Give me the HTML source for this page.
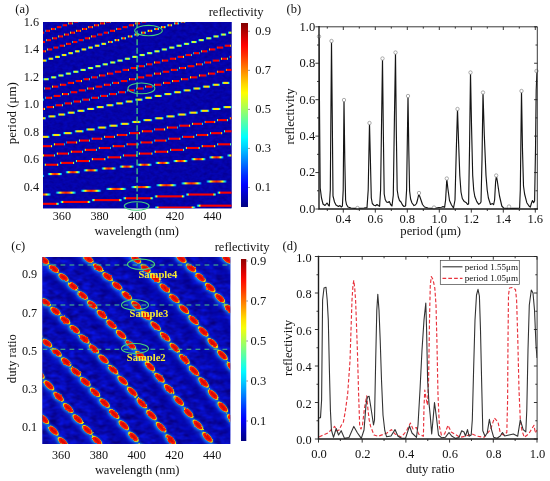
<!DOCTYPE html>
<html lang="en"><head><meta charset="utf-8"><title>Reflectivity maps</title>
<style>html,body{margin:0;padding:0;background:#fff}body{width:550px;height:481px;overflow:hidden}svg{display:block;font-family:'Liberation Serif', 'DejaVu Serif', serif}</style></head><body>
<svg width="550" height="481" viewBox="0 0 550 481">
<defs>
<linearGradient id="cbA" x1="0" y1="1" x2="0" y2="0">
<stop offset="0" stop-color="#000080"/>
<stop offset="0.04" stop-color="#0000aa"/>
<stop offset="0.08" stop-color="#0000d4"/>
<stop offset="0.12" stop-color="#0000ff"/>
<stop offset="0.17" stop-color="#002aff"/>
<stop offset="0.21" stop-color="#0055ff"/>
<stop offset="0.25" stop-color="#0080ff"/>
<stop offset="0.29" stop-color="#00aaff"/>
<stop offset="0.33" stop-color="#00d4ff"/>
<stop offset="0.38" stop-color="#00ffff"/>
<stop offset="0.42" stop-color="#2bffd4"/>
<stop offset="0.46" stop-color="#55ffaa"/>
<stop offset="0.5" stop-color="#80ff80"/>
<stop offset="0.54" stop-color="#aaff55"/>
<stop offset="0.58" stop-color="#d5ff2a"/>
<stop offset="0.62" stop-color="#ffff00"/>
<stop offset="0.67" stop-color="#ffd500"/>
<stop offset="0.71" stop-color="#ffaa00"/>
<stop offset="0.75" stop-color="#ff8000"/>
<stop offset="0.79" stop-color="#ff5500"/>
<stop offset="0.83" stop-color="#ff2a00"/>
<stop offset="0.88" stop-color="#ff0000"/>
<stop offset="0.92" stop-color="#d50000"/>
<stop offset="0.96" stop-color="#aa0000"/>
<stop offset="1" stop-color="#800000"/>
</linearGradient>
<linearGradient id="cbC" x1="0" y1="1" x2="0" y2="0">
<stop offset="0" stop-color="#000080"/>
<stop offset="0.04" stop-color="#0000a9"/>
<stop offset="0.08" stop-color="#0000d3"/>
<stop offset="0.12" stop-color="#0000fd"/>
<stop offset="0.17" stop-color="#0028ff"/>
<stop offset="0.21" stop-color="#0052ff"/>
<stop offset="0.25" stop-color="#007cff"/>
<stop offset="0.29" stop-color="#00a6ff"/>
<stop offset="0.33" stop-color="#00cfff"/>
<stop offset="0.38" stop-color="#00f9ff"/>
<stop offset="0.42" stop-color="#24ffdb"/>
<stop offset="0.46" stop-color="#4effb1"/>
<stop offset="0.5" stop-color="#78ff87"/>
<stop offset="0.54" stop-color="#a2ff5d"/>
<stop offset="0.58" stop-color="#ccff33"/>
<stop offset="0.62" stop-color="#f5ff0a"/>
<stop offset="0.67" stop-color="#ffdf00"/>
<stop offset="0.71" stop-color="#ffb500"/>
<stop offset="0.75" stop-color="#ff8b00"/>
<stop offset="0.79" stop-color="#ff6100"/>
<stop offset="0.83" stop-color="#ff3700"/>
<stop offset="0.88" stop-color="#ff0d00"/>
<stop offset="0.92" stop-color="#e30000"/>
<stop offset="0.96" stop-color="#b90000"/>
<stop offset="1" stop-color="#8f0000"/>
</linearGradient>
<linearGradient id="gS" x1="0" y1="0" x2="1" y2="0">
<stop offset="0" stop-color="#009eff" stop-opacity="0.85"/>
<stop offset="0.04" stop-color="#1affe5" stop-opacity="1"/>
<stop offset="0.07" stop-color="#faff05" stop-opacity="1"/>
<stop offset="0.11" stop-color="#fa0000" stop-opacity="1"/>
<stop offset="0.89" stop-color="#fa0000" stop-opacity="1"/>
<stop offset="0.93" stop-color="#faff05" stop-opacity="1"/>
<stop offset="0.96" stop-color="#1affe5" stop-opacity="1"/>
<stop offset="1" stop-color="#009eff" stop-opacity="0.85"/>
</linearGradient>
<linearGradient id="gM" x1="0" y1="0" x2="1" y2="0">
<stop offset="0" stop-color="#004dff" stop-opacity="0"/>
<stop offset="0.09" stop-color="#004dff" stop-opacity="0"/>
<stop offset="0.15" stop-color="#00b2ff" stop-opacity="0.85"/>
<stop offset="0.21" stop-color="#2effd1" stop-opacity="1"/>
<stop offset="0.28" stop-color="#faff05" stop-opacity="1"/>
<stop offset="0.37" stop-color="#ff6100" stop-opacity="1"/>
<stop offset="0.5" stop-color="#ff1a00" stop-opacity="1"/>
<stop offset="0.5" stop-color="#ff1a00" stop-opacity="1"/>
<stop offset="0.63" stop-color="#ff6100" stop-opacity="1"/>
<stop offset="0.72" stop-color="#faff05" stop-opacity="1"/>
<stop offset="0.79" stop-color="#2effd1" stop-opacity="1"/>
<stop offset="0.85" stop-color="#00b2ff" stop-opacity="0.85"/>
<stop offset="0.91" stop-color="#004dff" stop-opacity="0"/>
<stop offset="1" stop-color="#004dff" stop-opacity="0"/>
</linearGradient>
<linearGradient id="gW" x1="0" y1="0" x2="1" y2="0">
<stop offset="0" stop-color="#004dff" stop-opacity="0"/>
<stop offset="0.08" stop-color="#004dff" stop-opacity="0"/>
<stop offset="0.15" stop-color="#00b2ff" stop-opacity="0.8"/>
<stop offset="0.22" stop-color="#2effd1" stop-opacity="1"/>
<stop offset="0.3" stop-color="#ffe500" stop-opacity="1"/>
<stop offset="0.7" stop-color="#ffe500" stop-opacity="1"/>
<stop offset="0.78" stop-color="#2effd1" stop-opacity="1"/>
<stop offset="0.85" stop-color="#00b2ff" stop-opacity="0.8"/>
<stop offset="0.92" stop-color="#004dff" stop-opacity="0"/>
<stop offset="1" stop-color="#004dff" stop-opacity="0"/>
</linearGradient>
<linearGradient id="gV" x1="0" y1="0" x2="1" y2="0">
<stop offset="0" stop-color="#004dff" stop-opacity="0"/>
<stop offset="0.08" stop-color="#004dff" stop-opacity="0"/>
<stop offset="0.15" stop-color="#00b2ff" stop-opacity="0.8"/>
<stop offset="0.23" stop-color="#2effd1" stop-opacity="1"/>
<stop offset="0.32" stop-color="#d1ff2e" stop-opacity="1"/>
<stop offset="0.68" stop-color="#d1ff2e" stop-opacity="1"/>
<stop offset="0.77" stop-color="#2effd1" stop-opacity="1"/>
<stop offset="0.85" stop-color="#00b2ff" stop-opacity="0.8"/>
<stop offset="0.92" stop-color="#004dff" stop-opacity="0"/>
<stop offset="1" stop-color="#004dff" stop-opacity="0"/>
</linearGradient>
<filter color-interpolation-filters="sRGB" id="b1" x="-5%" y="-5%" width="110%" height="110%"><feGaussianBlur stdDeviation="0.45"/></filter>
<filter color-interpolation-filters="sRGB" id="b2" x="-5%" y="-5%" width="110%" height="110%"><feTurbulence type="fractalNoise" baseFrequency="0.35" numOctaves="1" seed="5" result="n"/><feDisplacementMap in="SourceGraphic" in2="n" scale="2.4" xChannelSelector="R" yChannelSelector="G"/><feGaussianBlur stdDeviation="0.55"/></filter>
<filter color-interpolation-filters="sRGB" id="b3" x="-5%" y="-5%" width="110%" height="110%"><feGaussianBlur stdDeviation="2.2"/></filter>
<filter color-interpolation-filters="sRGB" id="b4" x="-5%" y="-5%" width="110%" height="110%"><feGaussianBlur stdDeviation="1.1"/></filter>
<filter color-interpolation-filters="sRGB" id="texA" x="0" y="0" width="100%" height="100%"><feTurbulence type="fractalNoise" baseFrequency="0.22 0.3" numOctaves="2" seed="7"/><feColorMatrix type="matrix" values="0 0 0 0 0.02  0.04 0 0 0 -0.01  0.24 0 0 0 0.54  0 0 0 0 1"/></filter>
<filter color-interpolation-filters="sRGB" id="texC" x="0" y="0" width="100%" height="100%"><feTurbulence type="fractalNoise" baseFrequency="0.12 0.2" numOctaves="2" seed="11"/><feColorMatrix type="matrix" values="0 0 0 0 0.03  0.12 0 0 0 -0.02  0.6 0 0 0 0.40  0 0 0 0 1"/></filter>
<clipPath id="clA"><rect x="43" y="22" width="188.5" height="186.3"/></clipPath>
<clipPath id="clC"><rect x="42.5" y="257" width="187.7" height="187"/></clipPath>
<clipPath id="clB"><rect x="319" y="26.8" width="218.4" height="182.4"/></clipPath>
<clipPath id="clD"><rect x="318.5" y="256.5" width="218.7" height="182.7"/></clipPath>
</defs>
<rect width="550" height="481" fill="#fff"/>
<g id="panel-a">
<rect x="43" y="22" width="188.5" height="186.3" fill="#0a0ab2"/>
<g clip-path="url(#clA)"><rect x="42" y="21" width="191" height="189" filter="url(#texA)"/><g filter="url(#b1)">
<rect x="196.83" y="204.63" width="40.35" height="2.1" fill="url(#gS)"/>
<rect x="154.98" y="206.49" width="40.35" height="2.1" fill="url(#gS)"/>
<rect x="217.47" y="191.61" width="29.89" height="2.1" fill="url(#gS)"/>
<rect x="186.08" y="193.47" width="29.89" height="2.1" fill="url(#gS)"/>
<rect x="154.7" y="195.33" width="29.89" height="2.1" fill="url(#gS)"/>
<rect x="123.31" y="197.19" width="29.89" height="2.1" fill="url(#gS)"/>
<rect x="91.93" y="199.05" width="29.89" height="2.1" fill="url(#gS)"/>
<rect x="60.54" y="200.91" width="29.89" height="2.1" fill="url(#gS)"/>
<rect x="29.15" y="202.77" width="29.89" height="2.1" fill="url(#gS)"/>
<rect x="228.6" y="178.59" width="26.11" height="2.1" fill="url(#gM)"/>
<rect x="203.49" y="180.45" width="26.11" height="2.1" fill="url(#gM)"/>
<rect x="178.39" y="182.31" width="26.11" height="2.1" fill="url(#gM)"/>
<rect x="153.28" y="184.17" width="26.11" height="2.1" fill="url(#gM)"/>
<rect x="128.17" y="186.03" width="26.11" height="2.1" fill="url(#gM)"/>
<rect x="103.06" y="187.89" width="26.11" height="2.1" fill="url(#gM)"/>
<rect x="77.95" y="189.75" width="26.11" height="2.1" fill="url(#gM)"/>
<rect x="52.84" y="191.61" width="26.11" height="2.1" fill="url(#gM)"/>
<rect x="27.73" y="193.47" width="26.11" height="2.1" fill="url(#gM)"/>
<rect x="224.97" y="154.41" width="18.65" height="2.1" fill="url(#gM)"/>
<rect x="207.03" y="156.27" width="18.65" height="2.1" fill="url(#gM)"/>
<rect x="189.1" y="158.13" width="18.65" height="2.1" fill="url(#gM)"/>
<rect x="171.16" y="159.99" width="18.65" height="2.1" fill="url(#gM)"/>
<rect x="153.23" y="161.85" width="18.65" height="2.1" fill="url(#gM)"/>
<rect x="135.29" y="163.71" width="18.65" height="2.1" fill="url(#gM)"/>
<rect x="117.36" y="165.57" width="18.65" height="2.1" fill="url(#gM)"/>
<rect x="99.42" y="167.43" width="18.65" height="2.1" fill="url(#gM)"/>
<rect x="81.49" y="169.29" width="18.65" height="2.1" fill="url(#gM)"/>
<rect x="63.55" y="171.15" width="18.65" height="2.1" fill="url(#gM)"/>
<rect x="45.62" y="173.01" width="18.65" height="2.1" fill="url(#gM)"/>
<rect x="27.68" y="174.87" width="18.65" height="2.1" fill="url(#gM)"/>
<rect x="217.05" y="143.25" width="14.19" height="2.1" fill="url(#gS)"/>
<rect x="201.35" y="145.11" width="14.19" height="2.1" fill="url(#gS)"/>
<rect x="185.66" y="146.97" width="14.19" height="2.1" fill="url(#gS)"/>
<rect x="169.97" y="148.83" width="14.19" height="2.1" fill="url(#gS)"/>
<rect x="154.28" y="150.69" width="14.19" height="2.1" fill="url(#gS)"/>
<rect x="138.58" y="152.55" width="14.19" height="2.1" fill="url(#gS)"/>
<rect x="122.89" y="154.41" width="14.19" height="2.1" fill="url(#gS)"/>
<rect x="107.2" y="156.27" width="14.19" height="2.1" fill="url(#gS)"/>
<rect x="91.5" y="158.13" width="14.19" height="2.1" fill="url(#gS)"/>
<rect x="75.81" y="159.99" width="14.19" height="2.1" fill="url(#gS)"/>
<rect x="60.12" y="161.85" width="14.19" height="2.1" fill="url(#gS)"/>
<rect x="44.42" y="163.71" width="14.19" height="2.1" fill="url(#gS)"/>
<rect x="223.98" y="130.23" width="12.45" height="2.1" fill="url(#gS)"/>
<rect x="210.03" y="132.09" width="12.45" height="2.1" fill="url(#gS)"/>
<rect x="196.08" y="133.95" width="12.45" height="2.1" fill="url(#gS)"/>
<rect x="182.13" y="135.81" width="12.45" height="2.1" fill="url(#gS)"/>
<rect x="168.18" y="137.67" width="12.45" height="2.1" fill="url(#gS)"/>
<rect x="154.23" y="139.53" width="12.45" height="2.1" fill="url(#gS)"/>
<rect x="140.28" y="141.39" width="12.45" height="2.1" fill="url(#gS)"/>
<rect x="126.33" y="143.25" width="12.45" height="2.1" fill="url(#gS)"/>
<rect x="112.38" y="145.11" width="12.45" height="2.1" fill="url(#gS)"/>
<rect x="98.43" y="146.97" width="12.45" height="2.1" fill="url(#gS)"/>
<rect x="84.48" y="148.83" width="12.45" height="2.1" fill="url(#gS)"/>
<rect x="70.53" y="150.69" width="12.45" height="2.1" fill="url(#gS)"/>
<rect x="56.58" y="152.55" width="12.45" height="2.1" fill="url(#gS)"/>
<rect x="42.63" y="154.41" width="12.45" height="2.1" fill="url(#gS)"/>
<rect x="229.52" y="117.21" width="11.05" height="2.1" fill="url(#gS)"/>
<rect x="216.96" y="119.07" width="11.05" height="2.1" fill="url(#gS)"/>
<rect x="204.41" y="120.93" width="11.05" height="2.1" fill="url(#gS)"/>
<rect x="191.85" y="122.79" width="11.05" height="2.1" fill="url(#gS)"/>
<rect x="179.3" y="124.65" width="11.05" height="2.1" fill="url(#gS)"/>
<rect x="166.75" y="126.51" width="11.05" height="2.1" fill="url(#gS)"/>
<rect x="154.19" y="128.37" width="11.05" height="2.1" fill="url(#gS)"/>
<rect x="141.64" y="130.23" width="11.05" height="2.1" fill="url(#gS)"/>
<rect x="129.08" y="132.09" width="11.05" height="2.1" fill="url(#gS)"/>
<rect x="116.53" y="133.95" width="11.05" height="2.1" fill="url(#gS)"/>
<rect x="103.97" y="135.81" width="11.05" height="2.1" fill="url(#gS)"/>
<rect x="91.42" y="137.67" width="11.05" height="2.1" fill="url(#gS)"/>
<rect x="78.87" y="139.53" width="11.05" height="2.1" fill="url(#gS)"/>
<rect x="66.31" y="141.39" width="11.05" height="2.1" fill="url(#gS)"/>
<rect x="53.76" y="143.25" width="11.05" height="2.1" fill="url(#gS)"/>
<rect x="41.2" y="145.11" width="11.05" height="2.1" fill="url(#gS)"/>
<rect x="221.66" y="106.05" width="11.87" height="2.1" fill="url(#gW)"/>
<rect x="210.25" y="107.91" width="11.87" height="2.1" fill="url(#gW)"/>
<rect x="198.83" y="109.77" width="11.87" height="2.1" fill="url(#gW)"/>
<rect x="187.42" y="111.63" width="11.87" height="2.1" fill="url(#gW)"/>
<rect x="176.01" y="113.49" width="11.87" height="2.1" fill="url(#gW)"/>
<rect x="164.6" y="115.35" width="11.87" height="2.1" fill="url(#gW)"/>
<rect x="153.18" y="117.21" width="11.87" height="2.1" fill="url(#gW)"/>
<rect x="141.77" y="119.07" width="11.87" height="2.1" fill="url(#gW)"/>
<rect x="130.36" y="120.93" width="11.87" height="2.1" fill="url(#gW)"/>
<rect x="118.94" y="122.79" width="11.87" height="2.1" fill="url(#gW)"/>
<rect x="107.53" y="124.65" width="11.87" height="2.1" fill="url(#gW)"/>
<rect x="96.12" y="126.51" width="11.87" height="2.1" fill="url(#gW)"/>
<rect x="84.7" y="128.37" width="11.87" height="2.1" fill="url(#gW)"/>
<rect x="73.29" y="130.23" width="11.87" height="2.1" fill="url(#gW)"/>
<rect x="61.88" y="132.09" width="11.87" height="2.1" fill="url(#gW)"/>
<rect x="50.46" y="133.95" width="11.87" height="2.1" fill="url(#gW)"/>
<rect x="39.05" y="135.81" width="11.87" height="2.1" fill="url(#gW)"/>
<rect x="230.43" y="80.01" width="10.04" height="2.1" fill="url(#gW)"/>
<rect x="220.77" y="81.87" width="10.04" height="2.1" fill="url(#gW)"/>
<rect x="211.11" y="83.73" width="10.04" height="2.1" fill="url(#gW)"/>
<rect x="201.46" y="85.59" width="10.04" height="2.1" fill="url(#gW)"/>
<rect x="191.8" y="87.45" width="10.04" height="2.1" fill="url(#gW)"/>
<rect x="182.14" y="89.31" width="10.04" height="2.1" fill="url(#gW)"/>
<rect x="172.48" y="91.17" width="10.04" height="2.1" fill="url(#gW)"/>
<rect x="162.83" y="93.03" width="10.04" height="2.1" fill="url(#gW)"/>
<rect x="153.17" y="94.89" width="10.04" height="2.1" fill="url(#gW)"/>
<rect x="143.51" y="96.75" width="10.04" height="2.1" fill="url(#gW)"/>
<rect x="133.86" y="98.61" width="10.04" height="2.1" fill="url(#gW)"/>
<rect x="124.2" y="100.47" width="10.04" height="2.1" fill="url(#gW)"/>
<rect x="114.54" y="102.33" width="10.04" height="2.1" fill="url(#gW)"/>
<rect x="104.88" y="104.19" width="10.04" height="2.1" fill="url(#gW)"/>
<rect x="95.23" y="106.05" width="10.04" height="2.1" fill="url(#gW)"/>
<rect x="85.57" y="107.91" width="10.04" height="2.1" fill="url(#gW)"/>
<rect x="75.91" y="109.77" width="10.04" height="2.1" fill="url(#gW)"/>
<rect x="66.26" y="111.63" width="10.04" height="2.1" fill="url(#gW)"/>
<rect x="56.6" y="113.49" width="10.04" height="2.1" fill="url(#gW)"/>
<rect x="46.94" y="115.35" width="10.04" height="2.1" fill="url(#gW)"/>
<rect x="37.28" y="117.21" width="10.04" height="2.1" fill="url(#gW)"/>
<rect x="225.83" y="68.85" width="7.47" height="2.1" fill="url(#gS)"/>
<rect x="216.87" y="70.71" width="7.47" height="2.1" fill="url(#gS)"/>
<rect x="207.9" y="72.57" width="7.47" height="2.1" fill="url(#gS)"/>
<rect x="198.93" y="74.43" width="7.47" height="2.1" fill="url(#gS)"/>
<rect x="189.96" y="76.29" width="7.47" height="2.1" fill="url(#gS)"/>
<rect x="181" y="78.15" width="7.47" height="2.1" fill="url(#gS)"/>
<rect x="172.03" y="80.01" width="7.47" height="2.1" fill="url(#gS)"/>
<rect x="163.06" y="81.87" width="7.47" height="2.1" fill="url(#gS)"/>
<rect x="154.09" y="83.73" width="7.47" height="2.1" fill="url(#gS)"/>
<rect x="145.13" y="85.59" width="7.47" height="2.1" fill="url(#gS)"/>
<rect x="136.16" y="87.45" width="7.47" height="2.1" fill="url(#gS)"/>
<rect x="127.19" y="89.31" width="7.47" height="2.1" fill="url(#gS)"/>
<rect x="118.23" y="91.17" width="7.47" height="2.1" fill="url(#gS)"/>
<rect x="109.26" y="93.03" width="7.47" height="2.1" fill="url(#gS)"/>
<rect x="100.29" y="94.89" width="7.47" height="2.1" fill="url(#gS)"/>
<rect x="91.32" y="96.75" width="7.47" height="2.1" fill="url(#gS)"/>
<rect x="82.36" y="98.61" width="7.47" height="2.1" fill="url(#gS)"/>
<rect x="73.39" y="100.47" width="7.47" height="2.1" fill="url(#gS)"/>
<rect x="64.42" y="102.33" width="7.47" height="2.1" fill="url(#gS)"/>
<rect x="55.45" y="104.19" width="7.47" height="2.1" fill="url(#gS)"/>
<rect x="46.49" y="106.05" width="7.47" height="2.1" fill="url(#gS)"/>
<rect x="37.52" y="107.91" width="7.47" height="2.1" fill="url(#gS)"/>
<rect x="229.41" y="55.83" width="6.87" height="2.1" fill="url(#gS)"/>
<rect x="221.04" y="57.69" width="6.87" height="2.1" fill="url(#gS)"/>
<rect x="212.67" y="59.55" width="6.87" height="2.1" fill="url(#gS)"/>
<rect x="204.3" y="61.41" width="6.87" height="2.1" fill="url(#gS)"/>
<rect x="195.93" y="63.27" width="6.87" height="2.1" fill="url(#gS)"/>
<rect x="187.56" y="65.13" width="6.87" height="2.1" fill="url(#gS)"/>
<rect x="179.19" y="66.99" width="6.87" height="2.1" fill="url(#gS)"/>
<rect x="170.82" y="68.85" width="6.87" height="2.1" fill="url(#gS)"/>
<rect x="162.45" y="70.71" width="6.87" height="2.1" fill="url(#gS)"/>
<rect x="154.08" y="72.57" width="6.87" height="2.1" fill="url(#gS)"/>
<rect x="145.71" y="74.43" width="6.87" height="2.1" fill="url(#gS)"/>
<rect x="137.34" y="76.29" width="6.87" height="2.1" fill="url(#gS)"/>
<rect x="128.97" y="78.15" width="6.87" height="2.1" fill="url(#gS)"/>
<rect x="120.6" y="80.01" width="6.87" height="2.1" fill="url(#gS)"/>
<rect x="112.23" y="81.87" width="6.87" height="2.1" fill="url(#gS)"/>
<rect x="103.86" y="83.73" width="6.87" height="2.1" fill="url(#gS)"/>
<rect x="95.49" y="85.59" width="6.87" height="2.1" fill="url(#gS)"/>
<rect x="87.12" y="87.45" width="6.87" height="2.1" fill="url(#gS)"/>
<rect x="78.75" y="89.31" width="6.87" height="2.1" fill="url(#gS)"/>
<rect x="70.38" y="91.17" width="6.87" height="2.1" fill="url(#gS)"/>
<rect x="62.01" y="93.03" width="6.87" height="2.1" fill="url(#gS)"/>
<rect x="53.64" y="94.89" width="6.87" height="2.1" fill="url(#gS)"/>
<rect x="45.27" y="96.75" width="6.87" height="2.1" fill="url(#gS)"/>
<rect x="36.9" y="98.61" width="6.87" height="2.1" fill="url(#gS)"/>
<rect x="224.68" y="44.67" width="6.35" height="2.1" fill="url(#gS)"/>
<rect x="216.84" y="46.53" width="6.35" height="2.1" fill="url(#gS)"/>
<rect x="208.99" y="48.39" width="6.35" height="2.1" fill="url(#gS)"/>
<rect x="201.14" y="50.25" width="6.35" height="2.1" fill="url(#gS)"/>
<rect x="193.3" y="52.11" width="6.35" height="2.1" fill="url(#gS)"/>
<rect x="185.45" y="53.97" width="6.35" height="2.1" fill="url(#gS)"/>
<rect x="177.6" y="55.83" width="6.35" height="2.1" fill="url(#gS)"/>
<rect x="169.76" y="57.69" width="6.35" height="2.1" fill="url(#gS)"/>
<rect x="161.91" y="59.55" width="6.35" height="2.1" fill="url(#gS)"/>
<rect x="154.06" y="61.41" width="6.35" height="2.1" fill="url(#gS)"/>
<rect x="146.22" y="63.27" width="6.35" height="2.1" fill="url(#gS)"/>
<rect x="138.37" y="65.13" width="6.35" height="2.1" fill="url(#gS)"/>
<rect x="130.53" y="66.99" width="6.35" height="2.1" fill="url(#gS)"/>
<rect x="122.68" y="68.85" width="6.35" height="2.1" fill="url(#gS)"/>
<rect x="114.83" y="70.71" width="6.35" height="2.1" fill="url(#gS)"/>
<rect x="106.99" y="72.57" width="6.35" height="2.1" fill="url(#gS)"/>
<rect x="99.14" y="74.43" width="6.35" height="2.1" fill="url(#gS)"/>
<rect x="91.29" y="76.29" width="6.35" height="2.1" fill="url(#gS)"/>
<rect x="83.45" y="78.15" width="6.35" height="2.1" fill="url(#gS)"/>
<rect x="75.6" y="80.01" width="6.35" height="2.1" fill="url(#gS)"/>
<rect x="67.75" y="81.87" width="6.35" height="2.1" fill="url(#gS)"/>
<rect x="59.91" y="83.73" width="6.35" height="2.1" fill="url(#gS)"/>
<rect x="52.06" y="85.59" width="6.35" height="2.1" fill="url(#gS)"/>
<rect x="44.21" y="87.45" width="6.35" height="2.1" fill="url(#gS)"/>
<rect x="227" y="31.65" width="7.68" height="2.1" fill="url(#gV)"/>
<rect x="219.62" y="33.51" width="7.68" height="2.1" fill="url(#gV)"/>
<rect x="212.23" y="35.37" width="7.68" height="2.1" fill="url(#gV)"/>
<rect x="204.85" y="37.23" width="7.68" height="2.1" fill="url(#gV)"/>
<rect x="197.46" y="39.09" width="7.68" height="2.1" fill="url(#gV)"/>
<rect x="190.08" y="40.95" width="7.68" height="2.1" fill="url(#gV)"/>
<rect x="182.69" y="42.81" width="7.68" height="2.1" fill="url(#gV)"/>
<rect x="175.31" y="44.67" width="7.68" height="2.1" fill="url(#gV)"/>
<rect x="167.92" y="46.53" width="7.68" height="2.1" fill="url(#gV)"/>
<rect x="160.54" y="48.39" width="7.68" height="2.1" fill="url(#gV)"/>
<rect x="153.15" y="50.25" width="7.68" height="2.1" fill="url(#gV)"/>
<rect x="145.77" y="52.11" width="7.68" height="2.1" fill="url(#gV)"/>
<rect x="138.38" y="53.97" width="7.68" height="2.1" fill="url(#gV)"/>
<rect x="131" y="55.83" width="7.68" height="2.1" fill="url(#gV)"/>
<rect x="123.62" y="57.69" width="7.68" height="2.1" fill="url(#gV)"/>
<rect x="116.23" y="59.55" width="7.68" height="2.1" fill="url(#gV)"/>
<rect x="108.85" y="61.41" width="7.68" height="2.1" fill="url(#gV)"/>
<rect x="101.46" y="63.27" width="7.68" height="2.1" fill="url(#gV)"/>
<rect x="94.08" y="65.13" width="7.68" height="2.1" fill="url(#gV)"/>
<rect x="86.69" y="66.99" width="7.68" height="2.1" fill="url(#gV)"/>
<rect x="79.31" y="68.85" width="7.68" height="2.1" fill="url(#gV)"/>
<rect x="71.92" y="70.71" width="7.68" height="2.1" fill="url(#gV)"/>
<rect x="64.54" y="72.57" width="7.68" height="2.1" fill="url(#gV)"/>
<rect x="57.15" y="74.43" width="7.68" height="2.1" fill="url(#gV)"/>
<rect x="49.77" y="76.29" width="7.68" height="2.1" fill="url(#gV)"/>
<rect x="42.38" y="78.15" width="7.68" height="2.1" fill="url(#gV)"/>
<rect x="179.58" y="20.49" width="6.87" height="2.1" fill="url(#gM)"/>
<rect x="172.97" y="22.35" width="6.87" height="2.1" fill="url(#gM)"/>
<rect x="166.36" y="24.21" width="6.87" height="2.1" fill="url(#gM)"/>
<rect x="159.76" y="26.07" width="6.87" height="2.1" fill="url(#gM)"/>
<rect x="153.15" y="27.93" width="6.87" height="2.1" fill="url(#gM)"/>
<rect x="146.54" y="29.79" width="6.87" height="2.1" fill="url(#gM)"/>
<rect x="139.93" y="31.65" width="6.87" height="2.1" fill="url(#gM)"/>
<rect x="133.33" y="33.51" width="6.87" height="2.1" fill="url(#gM)"/>
<rect x="126.72" y="35.37" width="6.87" height="2.1" fill="url(#gM)"/>
<rect x="120.11" y="37.23" width="6.87" height="2.1" fill="url(#gM)"/>
<rect x="113.5" y="39.09" width="6.87" height="2.1" fill="url(#gM)"/>
<rect x="106.9" y="40.95" width="6.87" height="2.1" fill="url(#gM)"/>
<rect x="100.29" y="42.81" width="6.87" height="2.1" fill="url(#gW)"/>
<rect x="93.68" y="44.67" width="6.87" height="2.1" fill="url(#gW)"/>
<rect x="87.07" y="46.53" width="6.87" height="2.1" fill="url(#gW)"/>
<rect x="80.47" y="48.39" width="6.87" height="2.1" fill="url(#gW)"/>
<rect x="73.86" y="50.25" width="6.87" height="2.1" fill="url(#gW)"/>
<rect x="67.25" y="52.11" width="6.87" height="2.1" fill="url(#gW)"/>
<rect x="60.64" y="53.97" width="6.87" height="2.1" fill="url(#gW)"/>
<rect x="54.04" y="55.83" width="6.87" height="2.1" fill="url(#gW)"/>
<rect x="47.43" y="57.69" width="6.87" height="2.1" fill="url(#gW)"/>
<rect x="40.82" y="59.55" width="6.87" height="2.1" fill="url(#gW)"/>
<rect x="141.35" y="20.49" width="5.02" height="2.1" fill="url(#gS)"/>
<rect x="135.07" y="22.35" width="5.02" height="2.1" fill="url(#gS)"/>
<rect x="128.79" y="24.21" width="5.02" height="2.1" fill="url(#gS)"/>
<rect x="122.51" y="26.07" width="5.02" height="2.1" fill="url(#gS)"/>
<rect x="116.24" y="27.93" width="5.02" height="2.1" fill="url(#gS)"/>
<rect x="109.96" y="29.79" width="5.02" height="2.1" fill="url(#gS)"/>
<rect x="103.68" y="31.65" width="5.02" height="2.1" fill="url(#gS)"/>
<rect x="97.41" y="33.51" width="5.02" height="2.1" fill="url(#gS)"/>
<rect x="91.13" y="35.37" width="5.02" height="2.1" fill="url(#gS)"/>
<rect x="84.85" y="37.23" width="5.02" height="2.1" fill="url(#gS)"/>
<rect x="78.57" y="39.09" width="5.02" height="2.1" fill="url(#gS)"/>
<rect x="72.3" y="40.95" width="5.02" height="2.1" fill="url(#gS)"/>
<rect x="66.02" y="42.81" width="5.02" height="2.1" fill="url(#gS)"/>
<rect x="59.74" y="44.67" width="5.02" height="2.1" fill="url(#gS)"/>
<rect x="53.47" y="46.53" width="5.02" height="2.1" fill="url(#gS)"/>
<rect x="47.19" y="48.39" width="5.02" height="2.1" fill="url(#gS)"/>
<rect x="40.91" y="50.25" width="5.02" height="2.1" fill="url(#gS)"/>
<rect x="106.04" y="20.49" width="4.78" height="2.1" fill="url(#gS)"/>
<rect x="100.06" y="22.35" width="4.78" height="2.1" fill="url(#gS)"/>
<rect x="94.08" y="24.21" width="4.78" height="2.1" fill="url(#gS)"/>
<rect x="88.1" y="26.07" width="4.78" height="2.1" fill="url(#gS)"/>
<rect x="82.12" y="27.93" width="4.78" height="2.1" fill="url(#gS)"/>
<rect x="76.14" y="29.79" width="4.78" height="2.1" fill="url(#gS)"/>
<rect x="70.17" y="31.65" width="4.78" height="2.1" fill="url(#gS)"/>
<rect x="64.19" y="33.51" width="4.78" height="2.1" fill="url(#gS)"/>
<rect x="58.21" y="35.37" width="4.78" height="2.1" fill="url(#gS)"/>
<rect x="52.23" y="37.23" width="4.78" height="2.1" fill="url(#gS)"/>
<rect x="46.25" y="39.09" width="4.78" height="2.1" fill="url(#gS)"/>
<rect x="40.28" y="40.95" width="4.78" height="2.1" fill="url(#gS)"/>
<rect x="73.94" y="20.49" width="4.57" height="2.1" fill="url(#gS)"/>
<rect x="68.23" y="22.35" width="4.57" height="2.1" fill="url(#gS)"/>
<rect x="62.52" y="24.21" width="4.57" height="2.1" fill="url(#gS)"/>
<rect x="56.82" y="26.07" width="4.57" height="2.1" fill="url(#gS)"/>
<rect x="51.11" y="27.93" width="4.57" height="2.1" fill="url(#gS)"/>
<rect x="45.4" y="29.79" width="4.57" height="2.1" fill="url(#gS)"/>
<rect x="39.7" y="31.65" width="4.57" height="2.1" fill="url(#gS)"/>
</g></g>
<line x1="137.1" y1="22" x2="137.1" y2="208" stroke="#44d27c" stroke-width="1.3" stroke-dasharray="6 2.6"/>
<ellipse cx="148.5" cy="30.6" rx="13.8" ry="5.2" fill="none" stroke="#45d17c" stroke-width="1.1"/>
<ellipse cx="141.4" cy="88.4" rx="13.4" ry="5.4" fill="none" stroke="#45d17c" stroke-width="1.1"/>
<ellipse cx="136.7" cy="206" rx="12.4" ry="4.3" fill="none" stroke="#45d17c" stroke-width="1.1"/>
<text x="39" y="25.9" font-size="12.2" text-anchor="end" fill="#111">1.6</text>
<text x="39" y="53.4" font-size="12.2" text-anchor="end" fill="#111">1.4</text>
<text x="39" y="80.9" font-size="12.2" text-anchor="end" fill="#111">1.2</text>
<text x="39" y="108.4" font-size="12.2" text-anchor="end" fill="#111">1.0</text>
<text x="39" y="135.9" font-size="12.2" text-anchor="end" fill="#111">0.8</text>
<text x="39" y="163.4" font-size="12.2" text-anchor="end" fill="#111">0.6</text>
<text x="39" y="190.9" font-size="12.2" text-anchor="end" fill="#111">0.4</text>
<text x="61.84" y="220.4" font-size="12.2" text-anchor="middle" fill="#111">360</text>
<text x="99.52" y="220.4" font-size="12.2" text-anchor="middle" fill="#111">380</text>
<text x="137.2" y="220.4" font-size="12.2" text-anchor="middle" fill="#111">400</text>
<text x="174.88" y="220.4" font-size="12.2" text-anchor="middle" fill="#111">420</text>
<text x="212.56" y="220.4" font-size="12.2" text-anchor="middle" fill="#111">440</text>
<text x="16" y="113.2" font-size="13" text-anchor="middle" fill="#111" transform="rotate(-90 16 113.2)">period (μm)</text>
<text x="136.7" y="235" font-size="12.45" text-anchor="middle" fill="#111">wavelength (nm)</text>
<text x="15.3" y="12.8" font-size="12.5" text-anchor="start" fill="#111">(a)</text>
<rect x="241" y="23" width="7" height="184" fill="url(#cbA)"/>
<line x1="248" y1="31.28" x2="250" y2="31.28" stroke="#555" stroke-width="0.6"/>
<text x="255.3" y="34.98" font-size="12.5" text-anchor="start" fill="#111">0.9</text>
<line x1="248" y1="70.33" x2="250" y2="70.33" stroke="#555" stroke-width="0.6"/>
<text x="255.3" y="74.03" font-size="12.5" text-anchor="start" fill="#111">0.7</text>
<line x1="248" y1="109.38" x2="250" y2="109.38" stroke="#555" stroke-width="0.6"/>
<text x="255.3" y="113.08" font-size="12.5" text-anchor="start" fill="#111">0.5</text>
<line x1="248" y1="148.43" x2="250" y2="148.43" stroke="#555" stroke-width="0.6"/>
<text x="255.3" y="152.12" font-size="12.5" text-anchor="start" fill="#111">0.3</text>
<line x1="248" y1="187.47" x2="250" y2="187.47" stroke="#555" stroke-width="0.6"/>
<text x="255.3" y="191.17" font-size="12.5" text-anchor="start" fill="#111">0.1</text>
<text x="208.7" y="15.6" font-size="12.5" text-anchor="start" fill="#111">reflectivity</text>
</g>
<g id="panel-c">
<rect x="42.5" y="257" width="187.7" height="187" fill="#0a14cc"/>
<g clip-path="url(#clC)">
<rect x="42" y="256" width="190" height="190" filter="url(#texC)"/>
<g filter="url(#b3)" fill="none">
<path d="M45 233.37 L48 235.85 L51 238.34 L54 240.87 L57 243.41 L60 245.99 L63 248.58 L66 251.2 L69 253.85 L72 256.52 L75 259.22 L78 261.94 L81 264.68 L84 267.45 L87 270.25 L90 273.07 L93 275.91 L96 278.78 L99 281.67 L102 284.59 L105 287.54 L108 290.5 L111 293.5 L114 296.52 L117 299.56 L120 302.63 L123 305.72 L126 308.83 L129 311.98 L132 315.14 L135 318.33 L138 321.55 L141 324.79 L144 328.06 L147 331.35 L150 334.66 L153 338 L156 341.37 L159 344.75 L162 348.17 L165 351.61 L168 355.07 L171 358.56 L174 362.07 L177 365.61 L180 369.17 L183 372.76 L186 376.37 L189 380.01 L192 383.67 L195 387.36 L198 391.07 L201 394.81 L204 398.57 L207 402.35 L210 406.16 L213 410 L216 413.86 L219 417.75 L222 421.65 L225 425.59 L228 429.55 L231 433.53 L234 437.54 L237 441.57 L240 445.63 L243 449.72 L246 453.82 L249 457.96 L252 462.11 L255 466.3 L258 470.5" stroke="#0000a0" stroke-opacity="0.5" stroke-width="9"/>
<path d="M45 196.9 L48 199.06 L51 201.25 L54 203.46 L57 205.71 L60 207.98 L63 210.27 L66 212.6 L69 214.95 L72 217.33 L75 219.74 L78 222.18 L81 224.64 L84 227.13 L87 229.65 L90 232.2 L93 234.77 L96 237.38 L99 240.01 L102 242.67 L105 245.35 L108 248.06 L111 250.81 L114 253.57 L117 256.37 L120 259.2 L123 262.05 L126 264.93 L129 267.84 L132 270.77 L135 273.73 L138 276.72 L141 279.74 L144 282.79 L147 285.86 L150 288.96 L153 292.09 L156 295.25 L159 298.44 L162 301.65 L165 304.89 L168 308.16 L171 311.45 L174 314.78 L177 318.13 L180 321.51 L183 324.91 L186 328.35 L189 331.81 L192 335.3 L195 338.82 L198 342.36 L201 345.93 L204 349.54 L207 353.16 L210 356.82 L213 360.5 L216 364.22 L219 367.95 L222 371.72 L225 375.52 L228 379.34 L231 383.19 L234 387.07 L237 390.97 L240 394.91 L243 398.87 L246 402.86 L249 406.87 L252 410.92 L255 414.99 L258 419.09" stroke="#0000a0" stroke-opacity="0.5" stroke-width="9"/>
<path d="M45 163.79 L48 165.5 L51 167.25 L54 169.02 L57 170.83 L60 172.67 L63 174.55 L66 176.46 L69 178.4 L72 180.37 L75 182.38 L78 184.42 L81 186.49 L84 188.59 L87 190.73 L90 192.9 L93 195.11 L96 197.34 L99 199.61 L102 201.91 L105 204.25 L108 206.62 L111 209.02 L114 211.45 L117 213.92 L120 216.42 L123 218.95 L126 221.52 L129 224.12 L132 226.75 L135 229.41 L138 232.11 L141 234.84 L144 237.6 L147 240.4 L150 243.23 L153 246.09 L156 248.98 L159 251.91 L162 254.87 L165 257.86 L168 260.89 L171 263.95 L174 267.04 L177 270.17 L180 273.32 L183 276.51 L186 279.74 L189 282.99 L192 286.28 L195 289.61 L198 292.96 L201 296.35 L204 299.77 L207 303.22 L210 306.71 L213 310.23 L216 313.78 L219 317.37 L222 320.99 L225 324.64 L228 328.32 L231 332.04 L234 335.79 L237 339.57 L240 343.39 L243 347.24 L246 351.12 L249 355.03 L252 358.98 L255 362.96 L258 366.97" stroke="#0000a0" stroke-opacity="0.5" stroke-width="9"/>
<path d="M45 161.68 L48 162.18 L51 162.72 L54 163.31 L57 163.95 L60 164.63 L63 165.36 L66 166.13 L69 166.95 L72 167.81 L75 168.72 L78 169.68 L81 170.68 L84 171.72 L87 172.81 L90 173.95 L93 175.13 L96 176.36 L99 177.64 L102 178.96 L105 180.32 L108 181.73 L111 183.19 L114 184.69 L117 186.24 L120 187.83 L123 189.47 L126 191.15 L129 192.88 L132 194.66 L135 196.48 L138 198.35 L141 200.26 L144 202.22 L147 204.22 L150 206.27 L153 208.36 L156 210.5 L159 212.69 L162 214.92 L165 217.2 L168 219.52 L171 221.89 L174 224.3 L177 226.76 L180 229.26 L183 231.82 L186 234.41 L189 237.05 L192 239.74 L195 242.47 L198 245.25 L201 248.07 L204 250.94 L207 253.86 L210 256.82 L213 259.82 L216 262.88 L219 265.97 L222 269.12 L225 272.3 L228 275.54 L231 278.82 L234 282.14 L237 285.51 L240 288.93 L243 292.39 L246 295.9 L249 299.45 L252 303.05 L255 306.69 L258 310.38" stroke="#0000a0" stroke-opacity="0.5" stroke-width="9"/>
<path d="M45 27.39 L48 30.69 L51 33.99 L54 37.29 L57 40.59 L60 43.89 L63 47.19 L66 50.49 L69 53.79 L72 57.09 L75 60.39 L78 63.69 L81 66.99 L84 70.29 L87 73.59 L90 76.89 L93 80.19 L96 83.49 L99 86.79 L102 90.09 L105 93.39 L108 96.69 L111 99.99 L114 103.29 L117 106.6 L120 109.9 L123 113.2 L126 116.5 L129 119.8 L132 123.1 L135 126.4 L138 129.7 L141 133 L144 136.3 L147 139.6 L150 142.9 L153 146.2 L156 149.5 L159 152.8 L162 156.1 L165 159.4 L168 162.7 L171 166 L174 169.3 L177 172.6 L180 175.9 L183 179.2 L186 182.5 L189 185.8 L192 189.1 L195 192.4 L198 195.7 L201 199 L204 202.3 L207 205.6 L210 208.9 L213 212.2 L216 215.5 L219 218.8 L222 222.1 L225 225.4 L228 228.7 L231 232 L234 235.3 L237 238.6 L240 241.9 L243 245.2 L246 248.5 L249 251.8 L252 255.1 L255 258.4 L258 261.7" stroke="#0000a0" stroke-opacity="0.5" stroke-width="9"/>
<path d="M45 273.76 L48 276.27 L51 278.81 L54 281.38 L57 283.98 L60 286.61 L63 289.27 L66 291.97 L69 294.69 L72 297.45 L75 300.24 L78 303.05 L81 305.9 L84 308.78 L87 311.69 L90 314.63 L93 317.6 L96 320.61 L99 323.64 L102 326.7 L105 329.8 L108 332.92 L111 336.08 L114 339.27 L117 342.49 L120 345.74 L123 349.02 L126 352.33 L129 355.67 L132 359.04 L135 362.44 L138 365.88 L141 369.34 L144 372.84 L147 376.37 L150 379.92 L153 383.51 L156 387.13 L159 390.78 L162 394.46 L165 398.17 L168 401.92 L171 405.69 L174 409.5 L177 413.33 L180 417.2 L183 421.09 L186 425.02 L189 428.98 L192 432.97 L195 436.99 L198 441.04 L201 445.12 L204 449.23 L207 453.38 L210 457.55 L213 461.76 L216 465.99 L219 470.26 L222 474.56 L225 478.89 L228 483.25 L231 487.64 L234 492.06 L237 496.51 L240 500.99 L243 505.51 L246 510.05 L249 514.63 L252 519.23 L255 523.87 L258 528.54" stroke="#0000a0" stroke-opacity="0.5" stroke-width="9"/>
<path d="M45 312.29 L48 315.01 L51 317.76 L54 320.54 L57 323.34 L60 326.17 L63 329.03 L66 331.91 L69 334.82 L72 337.76 L75 340.73 L78 343.72 L81 346.74 L84 349.79 L87 352.86 L90 355.96 L93 359.09 L96 362.25 L99 365.43 L102 368.64 L105 371.88 L108 375.14 L111 378.43 L114 381.75 L117 385.09 L120 388.47 L123 391.86 L126 395.29 L129 398.74 L132 402.22 L135 405.73 L138 409.27 L141 412.83 L144 416.42 L147 420.03 L150 423.67 L153 427.34 L156 431.04 L159 434.77 L162 438.52 L165 442.29 L168 446.1 L171 449.93 L174 453.79 L177 457.68 L180 461.59 L183 465.53 L186 469.5 L189 473.49 L192 477.52 L195 481.57 L198 485.64 L201 489.74 L204 493.88 L207 498.03 L210 502.22 L213 506.43 L216 510.67 L219 514.93 L222 519.23 L225 523.54 L228 527.89 L231 532.27 L234 536.67 L237 541.09 L240 545.55 L243 550.03 L246 554.54 L249 559.08 L252 563.64 L255 568.23 L258 572.85" stroke="#0000a0" stroke-opacity="0.5" stroke-width="9"/>
<path d="M45 347.22 L48 350.92 L51 354.61 L54 358.27 L57 361.92 L60 365.55 L63 369.16 L66 372.75 L69 376.33 L72 379.89 L75 383.43 L78 386.95 L81 390.45 L84 393.94 L87 397.41 L90 400.86 L93 404.29 L96 407.71 L99 411.1 L102 414.48 L105 417.84 L108 421.19 L111 424.51 L114 427.82 L117 431.11 L120 434.38 L123 437.64 L126 440.87 L129 444.09 L132 447.29 L135 450.48 L138 453.64 L141 456.79 L144 459.92 L147 463.03 L150 466.12 L153 469.2 L156 472.26 L159 475.3 L162 478.32 L165 481.32 L168 484.31 L171 487.28 L174 490.23 L177 493.16 L180 496.08 L183 498.97 L186 501.85 L189 504.71 L192 507.56 L195 510.38 L198 513.19 L201 515.98 L204 518.75 L207 521.51 L210 524.24 L213 526.96 L216 529.66 L219 532.35 L222 535.01 L225 537.66 L228 540.29 L231 542.9 L234 545.49 L237 548.07 L240 550.63 L243 553.17 L246 555.69 L249 558.19 L252 560.68 L255 563.15 L258 565.6" stroke="#0000a0" stroke-opacity="0.5" stroke-width="9"/>
<path d="M45 387.46 L48 391.06 L51 394.66 L54 398.26 L57 401.86 L60 405.46 L63 409.06 L66 412.66 L69 416.26 L72 419.85 L75 423.45 L78 427.05 L81 430.65 L84 434.25 L87 437.85 L90 441.45 L93 445.05 L96 448.65 L99 452.25 L102 455.85 L105 459.45 L108 463.05 L111 466.65 L114 470.25 L117 473.85 L120 477.45 L123 481.05 L126 484.65 L129 488.25 L132 491.85 L135 495.45 L138 499.05 L141 502.65 L144 506.25 L147 509.85 L150 513.45 L153 517.05 L156 520.65 L159 524.25 L162 527.85 L165 531.45 L168 535.05 L171 538.65 L174 542.25 L177 545.85 L180 549.45 L183 553.05 L186 556.65 L189 560.25 L192 563.85 L195 567.45 L198 571.05 L201 574.65 L204 578.25 L207 581.85 L210 585.45 L213 589.05 L216 592.65 L219 596.25 L222 599.85 L225 603.45 L228 607.05 L231 610.65 L234 614.25 L237 617.85 L240 621.45 L243 625.05 L246 628.65 L249 632.25 L252 635.85 L255 639.45 L258 643.05" stroke="#0000a0" stroke-opacity="0.5" stroke-width="9"/>
<path d="M28 250.37 L31 252.85 L34 255.34 L37 257.87 L40 260.41 L43 262.99 L46 265.58 L49 268.2 L52 270.85 L55 273.52 L58 276.22 L61 278.94 L64 281.68 L67 284.45 L70 287.25 L73 290.07 L76 292.91 L79 295.78 L82 298.67 L85 301.59 L88 304.54 L91 307.5 L94 310.5 L97 313.52 L100 316.56 L103 319.63 L106 322.72 L109 325.83 L112 328.98 L115 332.14 L118 335.33 L121 338.55 L124 341.79 L127 345.06 L130 348.35 L133 351.66 L136 355 L139 358.37 L142 361.75 L145 365.17 L148 368.61 L151 372.07 L154 375.56 L157 379.07 L160 382.61 L163 386.17 L166 389.76 L169 393.37 L172 397.01 L175 400.67 L178 404.36 L181 408.07 L184 411.81 L187 415.57 L190 419.35 L193 423.16 L196 427 L199 430.86 L202 434.75 L205 438.65 L208 442.59 L211 446.55 L214 450.53 L217 454.54 L220 458.57 L223 462.63 L226 466.72 L229 470.82 L232 474.96 L235 479.11 L238 483.3 L241 487.5" stroke="#1c50ff" stroke-opacity="0.5" stroke-width="6"/>
<path d="M28 213.9 L31 216.06 L34 218.25 L37 220.46 L40 222.71 L43 224.98 L46 227.27 L49 229.6 L52 231.95 L55 234.33 L58 236.74 L61 239.18 L64 241.64 L67 244.13 L70 246.65 L73 249.2 L76 251.77 L79 254.38 L82 257.01 L85 259.67 L88 262.35 L91 265.06 L94 267.81 L97 270.57 L100 273.37 L103 276.2 L106 279.05 L109 281.93 L112 284.84 L115 287.77 L118 290.73 L121 293.72 L124 296.74 L127 299.79 L130 302.86 L133 305.96 L136 309.09 L139 312.25 L142 315.44 L145 318.65 L148 321.89 L151 325.16 L154 328.45 L157 331.78 L160 335.13 L163 338.51 L166 341.91 L169 345.35 L172 348.81 L175 352.3 L178 355.82 L181 359.36 L184 362.93 L187 366.54 L190 370.16 L193 373.82 L196 377.5 L199 381.22 L202 384.95 L205 388.72 L208 392.52 L211 396.34 L214 400.19 L217 404.07 L220 407.97 L223 411.91 L226 415.87 L229 419.86 L232 423.87 L235 427.92 L238 431.99 L241 436.09" stroke="#1c50ff" stroke-opacity="0.5" stroke-width="6"/>
<path d="M28 180.79 L31 182.5 L34 184.25 L37 186.02 L40 187.83 L43 189.67 L46 191.55 L49 193.46 L52 195.4 L55 197.37 L58 199.38 L61 201.42 L64 203.49 L67 205.59 L70 207.73 L73 209.9 L76 212.11 L79 214.34 L82 216.61 L85 218.91 L88 221.25 L91 223.62 L94 226.02 L97 228.45 L100 230.92 L103 233.42 L106 235.95 L109 238.52 L112 241.12 L115 243.75 L118 246.41 L121 249.11 L124 251.84 L127 254.6 L130 257.4 L133 260.23 L136 263.09 L139 265.98 L142 268.91 L145 271.87 L148 274.86 L151 277.89 L154 280.95 L157 284.04 L160 287.17 L163 290.32 L166 293.51 L169 296.74 L172 299.99 L175 303.28 L178 306.61 L181 309.96 L184 313.35 L187 316.77 L190 320.22 L193 323.71 L196 327.23 L199 330.78 L202 334.37 L205 337.99 L208 341.64 L211 345.32 L214 349.04 L217 352.79 L220 356.57 L223 360.39 L226 364.24 L229 368.12 L232 372.03 L235 375.98 L238 379.96 L241 383.97" stroke="#1c50ff" stroke-opacity="0.5" stroke-width="6"/>
<path d="M28 178.68 L31 179.18 L34 179.72 L37 180.31 L40 180.95 L43 181.63 L46 182.36 L49 183.13 L52 183.95 L55 184.81 L58 185.72 L61 186.68 L64 187.68 L67 188.72 L70 189.81 L73 190.95 L76 192.13 L79 193.36 L82 194.64 L85 195.96 L88 197.32 L91 198.73 L94 200.19 L97 201.69 L100 203.24 L103 204.83 L106 206.47 L109 208.15 L112 209.88 L115 211.66 L118 213.48 L121 215.35 L124 217.26 L127 219.22 L130 221.22 L133 223.27 L136 225.36 L139 227.5 L142 229.69 L145 231.92 L148 234.2 L151 236.52 L154 238.89 L157 241.3 L160 243.76 L163 246.26 L166 248.82 L169 251.41 L172 254.05 L175 256.74 L178 259.47 L181 262.25 L184 265.07 L187 267.94 L190 270.86 L193 273.82 L196 276.82 L199 279.88 L202 282.97 L205 286.12 L208 289.3 L211 292.54 L214 295.82 L217 299.14 L220 302.51 L223 305.93 L226 309.39 L229 312.9 L232 316.45 L235 320.05 L238 323.69 L241 327.38" stroke="#1c50ff" stroke-opacity="0.5" stroke-width="6"/>
<path d="M28 44.39 L31 47.69 L34 50.99 L37 54.29 L40 57.59 L43 60.89 L46 64.19 L49 67.49 L52 70.79 L55 74.09 L58 77.39 L61 80.69 L64 83.99 L67 87.29 L70 90.59 L73 93.89 L76 97.19 L79 100.49 L82 103.79 L85 107.09 L88 110.39 L91 113.69 L94 116.99 L97 120.29 L100 123.6 L103 126.9 L106 130.2 L109 133.5 L112 136.8 L115 140.1 L118 143.4 L121 146.7 L124 150 L127 153.3 L130 156.6 L133 159.9 L136 163.2 L139 166.5 L142 169.8 L145 173.1 L148 176.4 L151 179.7 L154 183 L157 186.3 L160 189.6 L163 192.9 L166 196.2 L169 199.5 L172 202.8 L175 206.1 L178 209.4 L181 212.7 L184 216 L187 219.3 L190 222.6 L193 225.9 L196 229.2 L199 232.5 L202 235.8 L205 239.1 L208 242.4 L211 245.7 L214 249 L217 252.3 L220 255.6 L223 258.9 L226 262.2 L229 265.5 L232 268.8 L235 272.1 L238 275.4 L241 278.7" stroke="#1c50ff" stroke-opacity="0.5" stroke-width="6"/>
<path d="M28 290.76 L31 293.27 L34 295.81 L37 298.38 L40 300.98 L43 303.61 L46 306.27 L49 308.97 L52 311.69 L55 314.45 L58 317.24 L61 320.05 L64 322.9 L67 325.78 L70 328.69 L73 331.63 L76 334.6 L79 337.61 L82 340.64 L85 343.7 L88 346.8 L91 349.92 L94 353.08 L97 356.27 L100 359.49 L103 362.74 L106 366.02 L109 369.33 L112 372.67 L115 376.04 L118 379.44 L121 382.88 L124 386.34 L127 389.84 L130 393.37 L133 396.92 L136 400.51 L139 404.13 L142 407.78 L145 411.46 L148 415.17 L151 418.92 L154 422.69 L157 426.5 L160 430.33 L163 434.2 L166 438.09 L169 442.02 L172 445.98 L175 449.97 L178 453.99 L181 458.04 L184 462.12 L187 466.23 L190 470.38 L193 474.55 L196 478.76 L199 482.99 L202 487.26 L205 491.56 L208 495.89 L211 500.25 L214 504.64 L217 509.06 L220 513.51 L223 517.99 L226 522.51 L229 527.05 L232 531.63 L235 536.23 L238 540.87 L241 545.54" stroke="#1c50ff" stroke-opacity="0.5" stroke-width="6"/>
<path d="M28 329.29 L31 332.01 L34 334.76 L37 337.54 L40 340.34 L43 343.17 L46 346.03 L49 348.91 L52 351.82 L55 354.76 L58 357.73 L61 360.72 L64 363.74 L67 366.79 L70 369.86 L73 372.96 L76 376.09 L79 379.25 L82 382.43 L85 385.64 L88 388.88 L91 392.14 L94 395.43 L97 398.75 L100 402.09 L103 405.47 L106 408.86 L109 412.29 L112 415.74 L115 419.22 L118 422.73 L121 426.27 L124 429.83 L127 433.42 L130 437.03 L133 440.67 L136 444.34 L139 448.04 L142 451.77 L145 455.52 L148 459.29 L151 463.1 L154 466.93 L157 470.79 L160 474.68 L163 478.59 L166 482.53 L169 486.5 L172 490.49 L175 494.52 L178 498.57 L181 502.64 L184 506.74 L187 510.88 L190 515.03 L193 519.22 L196 523.43 L199 527.67 L202 531.93 L205 536.23 L208 540.54 L211 544.89 L214 549.27 L217 553.67 L220 558.09 L223 562.55 L226 567.03 L229 571.54 L232 576.08 L235 580.64 L238 585.23 L241 589.85" stroke="#1c50ff" stroke-opacity="0.5" stroke-width="6"/>
<path d="M28 364.22 L31 367.92 L34 371.61 L37 375.27 L40 378.92 L43 382.55 L46 386.16 L49 389.75 L52 393.33 L55 396.89 L58 400.43 L61 403.95 L64 407.45 L67 410.94 L70 414.41 L73 417.86 L76 421.29 L79 424.71 L82 428.1 L85 431.48 L88 434.84 L91 438.19 L94 441.51 L97 444.82 L100 448.11 L103 451.38 L106 454.64 L109 457.87 L112 461.09 L115 464.29 L118 467.48 L121 470.64 L124 473.79 L127 476.92 L130 480.03 L133 483.12 L136 486.2 L139 489.26 L142 492.3 L145 495.32 L148 498.32 L151 501.31 L154 504.28 L157 507.23 L160 510.16 L163 513.08 L166 515.97 L169 518.85 L172 521.71 L175 524.56 L178 527.38 L181 530.19 L184 532.98 L187 535.75 L190 538.51 L193 541.24 L196 543.96 L199 546.66 L202 549.35 L205 552.01 L208 554.66 L211 557.29 L214 559.9 L217 562.49 L220 565.07 L223 567.63 L226 570.17 L229 572.69 L232 575.19 L235 577.68 L238 580.15 L241 582.6" stroke="#1c50ff" stroke-opacity="0.5" stroke-width="6"/>
<path d="M28 404.46 L31 408.06 L34 411.66 L37 415.26 L40 418.86 L43 422.46 L46 426.06 L49 429.66 L52 433.26 L55 436.85 L58 440.45 L61 444.05 L64 447.65 L67 451.25 L70 454.85 L73 458.45 L76 462.05 L79 465.65 L82 469.25 L85 472.85 L88 476.45 L91 480.05 L94 483.65 L97 487.25 L100 490.85 L103 494.45 L106 498.05 L109 501.65 L112 505.25 L115 508.85 L118 512.45 L121 516.05 L124 519.65 L127 523.25 L130 526.85 L133 530.45 L136 534.05 L139 537.65 L142 541.25 L145 544.85 L148 548.45 L151 552.05 L154 555.65 L157 559.25 L160 562.85 L163 566.45 L166 570.05 L169 573.65 L172 577.25 L175 580.85 L178 584.45 L181 588.05 L184 591.65 L187 595.25 L190 598.85 L193 602.45 L196 606.05 L199 609.65 L202 613.25 L205 616.85 L208 620.45 L211 624.05 L214 627.65 L217 631.25 L220 634.85 L223 638.45 L226 642.05 L229 645.65 L232 649.25 L235 652.85 L238 656.45 L241 660.05" stroke="#1c50ff" stroke-opacity="0.5" stroke-width="6"/>
</g>
<g filter="url(#b4)">
<ellipse cx="34.1" cy="252.86" rx="6.25" ry="3.8" fill="#10c0f8" fill-opacity="0.6" transform="rotate(32.8 34.7 252.26)"/>
<ellipse cx="43.7" cy="260.98" rx="6.33" ry="3.8" fill="#10c0f8" fill-opacity="0.6" transform="rotate(33.68 44.3 260.38)"/>
<ellipse cx="53.3" cy="269.36" rx="6.41" ry="3.8" fill="#10c0f8" fill-opacity="0.6" transform="rotate(34.54 53.9 268.76)"/>
<ellipse cx="62.9" cy="277.99" rx="6.5" ry="3.8" fill="#10c0f8" fill-opacity="0.6" transform="rotate(35.38 63.5 277.39)"/>
<ellipse cx="72.5" cy="286.88" rx="6.58" ry="3.8" fill="#10c0f8" fill-opacity="0.6" transform="rotate(36.19 73.1 286.28)"/>
<ellipse cx="82.1" cy="296.02" rx="6.67" ry="3.8" fill="#10c0f8" fill-opacity="0.6" transform="rotate(36.99 82.7 295.42)"/>
<ellipse cx="91.7" cy="305.41" rx="6.76" ry="3.8" fill="#10c0f8" fill-opacity="0.6" transform="rotate(37.76 92.3 304.81)"/>
<ellipse cx="101.3" cy="315.06" rx="6.85" ry="3.8" fill="#10c0f8" fill-opacity="0.6" transform="rotate(38.51 101.9 314.46)"/>
<ellipse cx="110.9" cy="324.96" rx="6.94" ry="3.8" fill="#10c0f8" fill-opacity="0.6" transform="rotate(39.25 111.5 324.36)"/>
<ellipse cx="120.5" cy="335.11" rx="7.03" ry="3.8" fill="#10c0f8" fill-opacity="0.6" transform="rotate(39.96 121.1 334.51)"/>
<ellipse cx="130.1" cy="345.52" rx="7.13" ry="3.8" fill="#10c0f8" fill-opacity="0.6" transform="rotate(40.66 130.7 344.92)"/>
<ellipse cx="139.7" cy="356.18" rx="7.22" ry="3.8" fill="#10c0f8" fill-opacity="0.6" transform="rotate(41.33 140.3 355.58)"/>
<ellipse cx="149.3" cy="367.09" rx="7.32" ry="3.8" fill="#10c0f8" fill-opacity="0.6" transform="rotate(41.99 149.9 366.49)"/>
<ellipse cx="158.9" cy="378.26" rx="7.41" ry="3.8" fill="#10c0f8" fill-opacity="0.6" transform="rotate(42.64 159.5 377.66)"/>
<ellipse cx="168.5" cy="389.68" rx="7.51" ry="3.8" fill="#10c0f8" fill-opacity="0.6" transform="rotate(43.27 169.1 389.08)"/>
<ellipse cx="178.1" cy="401.36" rx="7.61" ry="3.8" fill="#10c0f8" fill-opacity="0.6" transform="rotate(43.88 178.7 400.76)"/>
<ellipse cx="187.7" cy="413.29" rx="7.71" ry="3.8" fill="#10c0f8" fill-opacity="0.6" transform="rotate(44.47 188.3 412.69)"/>
<ellipse cx="197.3" cy="425.47" rx="7.81" ry="3.8" fill="#10c0f8" fill-opacity="0.6" transform="rotate(45.05 197.9 424.87)"/>
<ellipse cx="206.9" cy="437.91" rx="7.91" ry="3.8" fill="#10c0f8" fill-opacity="0.6" transform="rotate(45.62 207.5 437.31)"/>
<ellipse cx="216.5" cy="450.6" rx="8.01" ry="3.8" fill="#10c0f8" fill-opacity="0.6" transform="rotate(46.17 217.1 450)"/>
<ellipse cx="78.2" cy="251.07" rx="6.35" ry="3.8" fill="#10c0f8" fill-opacity="0.6" transform="rotate(33.87 78.8 250.47)"/>
<ellipse cx="87.8" cy="259.52" rx="6.44" ry="3.8" fill="#10c0f8" fill-opacity="0.6" transform="rotate(34.83 88.4 258.92)"/>
<ellipse cx="97.4" cy="268.25" rx="6.54" ry="3.8" fill="#10c0f8" fill-opacity="0.6" transform="rotate(35.75 98 267.65)"/>
<ellipse cx="107" cy="277.27" rx="6.63" ry="3.8" fill="#10c0f8" fill-opacity="0.6" transform="rotate(36.65 107.6 276.67)"/>
<ellipse cx="116.6" cy="286.57" rx="6.73" ry="3.8" fill="#10c0f8" fill-opacity="0.6" transform="rotate(37.53 117.2 285.97)"/>
<ellipse cx="126.2" cy="296.15" rx="6.83" ry="3.8" fill="#10c0f8" fill-opacity="0.6" transform="rotate(38.38 126.8 295.55)"/>
<ellipse cx="135.8" cy="306.02" rx="6.94" ry="3.8" fill="#10c0f8" fill-opacity="0.6" transform="rotate(39.2 136.4 305.42)"/>
<ellipse cx="145.4" cy="316.17" rx="7.04" ry="3.8" fill="#10c0f8" fill-opacity="0.6" transform="rotate(40 146 315.57)"/>
<ellipse cx="155" cy="326.61" rx="7.14" ry="3.8" fill="#10c0f8" fill-opacity="0.6" transform="rotate(40.78 155.6 326.01)"/>
<ellipse cx="164.6" cy="337.33" rx="7.25" ry="3.8" fill="#10c0f8" fill-opacity="0.6" transform="rotate(41.53 165.2 336.73)"/>
<ellipse cx="174.2" cy="348.34" rx="7.36" ry="3.8" fill="#10c0f8" fill-opacity="0.6" transform="rotate(42.26 174.8 347.74)"/>
<ellipse cx="183.8" cy="359.63" rx="7.46" ry="3.8" fill="#10c0f8" fill-opacity="0.6" transform="rotate(42.97 184.4 359.03)"/>
<ellipse cx="193.4" cy="371.2" rx="7.57" ry="3.8" fill="#10c0f8" fill-opacity="0.6" transform="rotate(43.67 194 370.6)"/>
<ellipse cx="203" cy="383.05" rx="7.68" ry="3.8" fill="#10c0f8" fill-opacity="0.6" transform="rotate(44.34 203.6 382.45)"/>
<ellipse cx="212.6" cy="395.19" rx="7.79" ry="3.8" fill="#10c0f8" fill-opacity="0.6" transform="rotate(44.99 213.2 394.59)"/>
<ellipse cx="222.2" cy="407.62" rx="7.91" ry="3.8" fill="#10c0f8" fill-opacity="0.6" transform="rotate(45.62 222.8 407.02)"/>
<ellipse cx="231.8" cy="420.33" rx="8.02" ry="3.8" fill="#10c0f8" fill-opacity="0.6" transform="rotate(46.24 232.4 419.73)"/>
<ellipse cx="241.4" cy="433.32" rx="8.13" ry="3.8" fill="#10c0f8" fill-opacity="0.6" transform="rotate(46.84 242 432.72)"/>
<ellipse cx="125.8" cy="250.81" rx="6.51" ry="3.8" fill="#10c0f8" fill-opacity="0.6" transform="rotate(35.52 126.4 250.21)"/>
<ellipse cx="135.4" cy="259.78" rx="6.63" ry="3.8" fill="#10c0f8" fill-opacity="0.6" transform="rotate(36.59 136 259.18)"/>
<ellipse cx="145" cy="269.09" rx="6.74" ry="3.8" fill="#10c0f8" fill-opacity="0.6" transform="rotate(37.63 145.6 268.49)"/>
<ellipse cx="154.6" cy="278.73" rx="6.86" ry="3.8" fill="#10c0f8" fill-opacity="0.6" transform="rotate(38.63 155.2 278.13)"/>
<ellipse cx="164.2" cy="288.71" rx="6.99" ry="3.8" fill="#10c0f8" fill-opacity="0.6" transform="rotate(39.6 164.8 288.11)"/>
<ellipse cx="173.8" cy="299.03" rx="7.11" ry="3.8" fill="#10c0f8" fill-opacity="0.6" transform="rotate(40.53 174.4 298.43)"/>
<ellipse cx="183.4" cy="309.69" rx="7.23" ry="3.8" fill="#10c0f8" fill-opacity="0.6" transform="rotate(41.43 184 309.09)"/>
<ellipse cx="193" cy="320.68" rx="7.36" ry="3.8" fill="#10c0f8" fill-opacity="0.6" transform="rotate(42.3 193.6 320.08)"/>
<ellipse cx="202.6" cy="332.01" rx="7.49" ry="3.8" fill="#10c0f8" fill-opacity="0.6" transform="rotate(43.14 203.2 331.41)"/>
<ellipse cx="212.2" cy="343.68" rx="7.62" ry="3.8" fill="#10c0f8" fill-opacity="0.6" transform="rotate(43.95 212.8 343.08)"/>
<ellipse cx="221.8" cy="355.68" rx="7.75" ry="3.8" fill="#10c0f8" fill-opacity="0.6" transform="rotate(44.74 222.4 355.08)"/>
<ellipse cx="231.4" cy="368.02" rx="7.88" ry="3.8" fill="#10c0f8" fill-opacity="0.6" transform="rotate(45.49 232 367.42)"/>
<ellipse cx="241" cy="380.7" rx="8.02" ry="3.8" fill="#10c0f8" fill-opacity="0.6" transform="rotate(46.23 241.6 380.1)"/>
<ellipse cx="171.2" cy="250.71" rx="6.38" ry="3.8" fill="#10c0f8" fill-opacity="0.6" transform="rotate(34.25 171.8 250.11)"/>
<ellipse cx="180.8" cy="259.36" rx="6.54" ry="3.8" fill="#10c0f8" fill-opacity="0.6" transform="rotate(35.79 181.4 258.76)"/>
<ellipse cx="190.4" cy="268.48" rx="6.7" ry="3.8" fill="#10c0f8" fill-opacity="0.6" transform="rotate(37.25 191 267.88)"/>
<ellipse cx="200" cy="278.07" rx="6.87" ry="3.8" fill="#10c0f8" fill-opacity="0.6" transform="rotate(38.65 200.6 277.47)"/>
<ellipse cx="209.6" cy="288.12" rx="7.03" ry="3.8" fill="#10c0f8" fill-opacity="0.6" transform="rotate(39.97 210.2 287.52)"/>
<ellipse cx="219.2" cy="298.64" rx="7.21" ry="3.8" fill="#10c0f8" fill-opacity="0.6" transform="rotate(41.24 219.8 298.04)"/>
<ellipse cx="228.8" cy="309.62" rx="7.38" ry="3.8" fill="#10c0f8" fill-opacity="0.6" transform="rotate(42.45 229.4 309.02)"/>
<ellipse cx="238.4" cy="321.07" rx="7.56" ry="3.8" fill="#10c0f8" fill-opacity="0.6" transform="rotate(43.6 239 320.47)"/>
<ellipse cx="226.3" cy="259.59" rx="7.14" ry="3.8" fill="#10c0f8" fill-opacity="0.6" transform="rotate(40.73 226.9 258.99)"/>
<ellipse cx="235.9" cy="270.15" rx="7.14" ry="3.8" fill="#10c0f8" fill-opacity="0.6" transform="rotate(40.73 236.5 269.55)"/>
<ellipse cx="35.7" cy="294.66" rx="6.31" ry="3.8" fill="#10c0f8" fill-opacity="0.6" transform="rotate(33.46 36.3 294.06)"/>
<ellipse cx="45.3" cy="303.01" rx="6.41" ry="3.8" fill="#10c0f8" fill-opacity="0.6" transform="rotate(34.53 45.9 302.41)"/>
<ellipse cx="54.9" cy="311.67" rx="6.52" ry="3.8" fill="#10c0f8" fill-opacity="0.6" transform="rotate(35.57 55.5 311.07)"/>
<ellipse cx="64.5" cy="320.64" rx="6.63" ry="3.8" fill="#10c0f8" fill-opacity="0.6" transform="rotate(36.58 65.1 320.04)"/>
<ellipse cx="74.1" cy="329.94" rx="6.74" ry="3.8" fill="#10c0f8" fill-opacity="0.6" transform="rotate(37.55 74.7 329.34)"/>
<ellipse cx="83.7" cy="339.54" rx="6.85" ry="3.8" fill="#10c0f8" fill-opacity="0.6" transform="rotate(38.49 84.3 338.94)"/>
<ellipse cx="93.3" cy="349.47" rx="6.96" ry="3.8" fill="#10c0f8" fill-opacity="0.6" transform="rotate(39.4 93.9 348.87)"/>
<ellipse cx="102.9" cy="359.71" rx="7.08" ry="3.8" fill="#10c0f8" fill-opacity="0.6" transform="rotate(40.28 103.5 359.11)"/>
<ellipse cx="112.5" cy="370.26" rx="7.19" ry="3.8" fill="#10c0f8" fill-opacity="0.6" transform="rotate(41.14 113.1 369.66)"/>
<ellipse cx="122.1" cy="381.13" rx="7.31" ry="3.8" fill="#10c0f8" fill-opacity="0.6" transform="rotate(41.96 122.7 380.53)"/>
<ellipse cx="131.7" cy="392.32" rx="7.43" ry="3.8" fill="#10c0f8" fill-opacity="0.6" transform="rotate(42.76 132.3 391.72)"/>
<ellipse cx="141.3" cy="403.82" rx="7.55" ry="3.8" fill="#10c0f8" fill-opacity="0.6" transform="rotate(43.54 141.9 403.22)"/>
<ellipse cx="150.9" cy="415.64" rx="7.67" ry="3.8" fill="#10c0f8" fill-opacity="0.6" transform="rotate(44.29 151.5 415.04)"/>
<ellipse cx="160.5" cy="427.78" rx="7.8" ry="3.8" fill="#10c0f8" fill-opacity="0.6" transform="rotate(45.01 161.1 427.18)"/>
<ellipse cx="170.1" cy="440.23" rx="7.92" ry="3.8" fill="#10c0f8" fill-opacity="0.6" transform="rotate(45.71 170.7 439.63)"/>
<ellipse cx="36.8" cy="334.65" rx="6.54" ry="3.8" fill="#10c0f8" fill-opacity="0.6" transform="rotate(35.77 37.4 334.05)"/>
<ellipse cx="46.4" cy="343.67" rx="6.63" ry="3.8" fill="#10c0f8" fill-opacity="0.6" transform="rotate(36.65 47 343.07)"/>
<ellipse cx="56" cy="352.97" rx="6.73" ry="3.8" fill="#10c0f8" fill-opacity="0.6" transform="rotate(37.51 56.6 352.37)"/>
<ellipse cx="65.6" cy="362.54" rx="6.83" ry="3.8" fill="#10c0f8" fill-opacity="0.6" transform="rotate(38.33 66.2 361.94)"/>
<ellipse cx="75.2" cy="372.4" rx="6.93" ry="3.8" fill="#10c0f8" fill-opacity="0.6" transform="rotate(39.14 75.8 371.8)"/>
<ellipse cx="84.8" cy="382.52" rx="7.03" ry="3.8" fill="#10c0f8" fill-opacity="0.6" transform="rotate(39.92 85.4 381.92)"/>
<ellipse cx="94.4" cy="392.93" rx="7.13" ry="3.8" fill="#10c0f8" fill-opacity="0.6" transform="rotate(40.69 95 392.33)"/>
<ellipse cx="104" cy="403.61" rx="7.23" ry="3.8" fill="#10c0f8" fill-opacity="0.6" transform="rotate(41.42 104.6 403.01)"/>
<ellipse cx="113.6" cy="414.57" rx="7.34" ry="3.8" fill="#10c0f8" fill-opacity="0.6" transform="rotate(42.14 114.2 413.97)"/>
<ellipse cx="123.2" cy="425.81" rx="7.44" ry="3.8" fill="#10c0f8" fill-opacity="0.6" transform="rotate(42.84 123.8 425.21)"/>
<ellipse cx="132.8" cy="437.33" rx="7.55" ry="3.8" fill="#10c0f8" fill-opacity="0.6" transform="rotate(43.52 133.4 436.73)"/>
<ellipse cx="142.4" cy="449.12" rx="7.66" ry="3.8" fill="#10c0f8" fill-opacity="0.6" transform="rotate(44.18 143 448.52)"/>
<ellipse cx="38.8" cy="374.36" rx="7.56" ry="3.8" fill="#10c0f8" fill-opacity="0.6" transform="rotate(43.61 39.4 373.76)"/>
<ellipse cx="48.4" cy="385.96" rx="7.49" ry="3.8" fill="#10c0f8" fill-opacity="0.6" transform="rotate(43.17 49 385.36)"/>
<ellipse cx="58" cy="397.38" rx="7.42" ry="3.8" fill="#10c0f8" fill-opacity="0.6" transform="rotate(42.72 58.6 396.78)"/>
<ellipse cx="67.6" cy="408.61" rx="7.35" ry="3.8" fill="#10c0f8" fill-opacity="0.6" transform="rotate(42.26 68.2 408.01)"/>
<ellipse cx="77.2" cy="419.66" rx="7.29" ry="3.8" fill="#10c0f8" fill-opacity="0.6" transform="rotate(41.79 77.8 419.06)"/>
<ellipse cx="86.8" cy="430.53" rx="7.22" ry="3.8" fill="#10c0f8" fill-opacity="0.6" transform="rotate(41.31 87.4 429.93)"/>
<ellipse cx="96.4" cy="441.22" rx="7.15" ry="3.8" fill="#10c0f8" fill-opacity="0.6" transform="rotate(40.82 97 440.62)"/>
<ellipse cx="106" cy="451.72" rx="7.08" ry="3.8" fill="#10c0f8" fill-opacity="0.6" transform="rotate(40.32 106.6 451.12)"/>
<ellipse cx="43.2" cy="419.62" rx="7.5" ry="3.8" fill="#10c0f8" fill-opacity="0.6" transform="rotate(43.19 43.8 419.02)"/>
<ellipse cx="52.8" cy="431.14" rx="7.5" ry="3.8" fill="#10c0f8" fill-opacity="0.6" transform="rotate(43.19 53.4 430.54)"/>
<ellipse cx="62.4" cy="442.65" rx="7.5" ry="3.8" fill="#10c0f8" fill-opacity="0.6" transform="rotate(43.19 63 442.05)"/>
</g>
<g filter="url(#b2)">
<ellipse cx="34.7" cy="252.26" rx="5.86" ry="2.85" fill="#f0e400" transform="rotate(32.8 34.7 252.26)"/>
<ellipse cx="44.3" cy="260.38" rx="5.92" ry="2.85" fill="#f0e400" transform="rotate(33.68 44.3 260.38)"/>
<ellipse cx="53.9" cy="268.76" rx="5.98" ry="2.85" fill="#f0e400" transform="rotate(34.54 53.9 268.76)"/>
<ellipse cx="63.5" cy="277.39" rx="6.04" ry="2.85" fill="#f0e400" transform="rotate(35.38 63.5 277.39)"/>
<ellipse cx="73.1" cy="286.28" rx="6.11" ry="2.85" fill="#f0e400" transform="rotate(36.19 73.1 286.28)"/>
<ellipse cx="82.7" cy="295.42" rx="6.17" ry="2.85" fill="#f0e400" transform="rotate(36.99 82.7 295.42)"/>
<ellipse cx="92.3" cy="304.81" rx="6.23" ry="2.85" fill="#f0e400" transform="rotate(37.76 92.3 304.81)"/>
<ellipse cx="101.9" cy="314.46" rx="6.3" ry="2.85" fill="#f0e400" transform="rotate(38.51 101.9 314.46)"/>
<ellipse cx="111.5" cy="324.36" rx="6.37" ry="2.85" fill="#f0e400" transform="rotate(39.25 111.5 324.36)"/>
<ellipse cx="121.1" cy="334.51" rx="6.43" ry="2.85" fill="#f0e400" transform="rotate(39.96 121.1 334.51)"/>
<ellipse cx="130.7" cy="344.92" rx="6.5" ry="2.85" fill="#f0e400" transform="rotate(40.66 130.7 344.92)"/>
<ellipse cx="140.3" cy="355.58" rx="6.57" ry="2.85" fill="#f0e400" transform="rotate(41.33 140.3 355.58)"/>
<ellipse cx="149.9" cy="366.49" rx="6.64" ry="2.85" fill="#f0e400" transform="rotate(41.99 149.9 366.49)"/>
<ellipse cx="159.5" cy="377.66" rx="6.71" ry="2.85" fill="#f0e400" transform="rotate(42.64 159.5 377.66)"/>
<ellipse cx="169.1" cy="389.08" rx="6.78" ry="2.85" fill="#f0e400" transform="rotate(43.27 169.1 389.08)"/>
<ellipse cx="178.7" cy="400.76" rx="6.85" ry="2.85" fill="#f0e400" transform="rotate(43.88 178.7 400.76)"/>
<ellipse cx="188.3" cy="412.69" rx="6.93" ry="2.85" fill="#f0e400" transform="rotate(44.47 188.3 412.69)"/>
<ellipse cx="197.9" cy="424.87" rx="7" ry="2.85" fill="#f0e400" transform="rotate(45.05 197.9 424.87)"/>
<ellipse cx="207.5" cy="437.31" rx="7.07" ry="2.85" fill="#f0e400" transform="rotate(45.62 207.5 437.31)"/>
<ellipse cx="217.1" cy="450" rx="7.15" ry="2.85" fill="#f0e400" transform="rotate(46.17 217.1 450)"/>
<ellipse cx="78.8" cy="250.47" rx="5.93" ry="2.85" fill="#f0e400" transform="rotate(33.87 78.8 250.47)"/>
<ellipse cx="88.4" cy="258.92" rx="6" ry="2.85" fill="#f0e400" transform="rotate(34.83 88.4 258.92)"/>
<ellipse cx="98" cy="267.65" rx="6.07" ry="2.85" fill="#f0e400" transform="rotate(35.75 98 267.65)"/>
<ellipse cx="107.6" cy="276.67" rx="6.14" ry="2.85" fill="#f0e400" transform="rotate(36.65 107.6 276.67)"/>
<ellipse cx="117.2" cy="285.97" rx="6.22" ry="2.85" fill="#f0e400" transform="rotate(37.53 117.2 285.97)"/>
<ellipse cx="126.8" cy="295.55" rx="6.29" ry="2.85" fill="#f0e400" transform="rotate(38.38 126.8 295.55)"/>
<ellipse cx="136.4" cy="305.42" rx="6.36" ry="2.85" fill="#f0e400" transform="rotate(39.2 136.4 305.42)"/>
<ellipse cx="146" cy="315.57" rx="6.44" ry="2.85" fill="#f0e400" transform="rotate(40 146 315.57)"/>
<ellipse cx="155.6" cy="326.01" rx="6.51" ry="2.85" fill="#f0e400" transform="rotate(40.78 155.6 326.01)"/>
<ellipse cx="165.2" cy="336.73" rx="6.59" ry="2.85" fill="#f0e400" transform="rotate(41.53 165.2 336.73)"/>
<ellipse cx="174.8" cy="347.74" rx="6.67" ry="2.85" fill="#f0e400" transform="rotate(42.26 174.8 347.74)"/>
<ellipse cx="184.4" cy="359.03" rx="6.75" ry="2.85" fill="#f0e400" transform="rotate(42.97 184.4 359.03)"/>
<ellipse cx="194" cy="370.6" rx="6.83" ry="2.85" fill="#f0e400" transform="rotate(43.67 194 370.6)"/>
<ellipse cx="203.6" cy="382.45" rx="6.91" ry="2.85" fill="#f0e400" transform="rotate(44.34 203.6 382.45)"/>
<ellipse cx="213.2" cy="394.59" rx="6.99" ry="2.85" fill="#f0e400" transform="rotate(44.99 213.2 394.59)"/>
<ellipse cx="222.8" cy="407.02" rx="7.07" ry="2.85" fill="#f0e400" transform="rotate(45.62 222.8 407.02)"/>
<ellipse cx="232.4" cy="419.73" rx="7.15" ry="2.85" fill="#f0e400" transform="rotate(46.24 232.4 419.73)"/>
<ellipse cx="242" cy="432.72" rx="7.24" ry="2.85" fill="#f0e400" transform="rotate(46.84 242 432.72)"/>
<ellipse cx="126.4" cy="250.21" rx="6.05" ry="2.85" fill="#f0e400" transform="rotate(35.52 126.4 250.21)"/>
<ellipse cx="136" cy="259.18" rx="6.14" ry="2.85" fill="#f0e400" transform="rotate(36.59 136 259.18)"/>
<ellipse cx="145.6" cy="268.49" rx="6.22" ry="2.85" fill="#f0e400" transform="rotate(37.63 145.6 268.49)"/>
<ellipse cx="155.2" cy="278.13" rx="6.31" ry="2.85" fill="#f0e400" transform="rotate(38.63 155.2 278.13)"/>
<ellipse cx="164.8" cy="288.11" rx="6.4" ry="2.85" fill="#f0e400" transform="rotate(39.6 164.8 288.11)"/>
<ellipse cx="174.4" cy="298.43" rx="6.49" ry="2.85" fill="#f0e400" transform="rotate(40.53 174.4 298.43)"/>
<ellipse cx="184" cy="309.09" rx="6.58" ry="2.85" fill="#f0e400" transform="rotate(41.43 184 309.09)"/>
<ellipse cx="193.6" cy="320.08" rx="6.67" ry="2.85" fill="#f0e400" transform="rotate(42.3 193.6 320.08)"/>
<ellipse cx="203.2" cy="331.41" rx="6.77" ry="2.85" fill="#f0e400" transform="rotate(43.14 203.2 331.41)"/>
<ellipse cx="212.8" cy="343.08" rx="6.86" ry="2.85" fill="#f0e400" transform="rotate(43.95 212.8 343.08)"/>
<ellipse cx="222.4" cy="355.08" rx="6.96" ry="2.85" fill="#f0e400" transform="rotate(44.74 222.4 355.08)"/>
<ellipse cx="232" cy="367.42" rx="7.06" ry="2.85" fill="#f0e400" transform="rotate(45.49 232 367.42)"/>
<ellipse cx="241.6" cy="380.1" rx="7.15" ry="2.85" fill="#f0e400" transform="rotate(46.23 241.6 380.1)"/>
<ellipse cx="171.8" cy="250.11" rx="5.96" ry="2.85" fill="#f0e400" transform="rotate(34.25 171.8 250.11)"/>
<ellipse cx="181.4" cy="258.76" rx="6.07" ry="2.85" fill="#f0e400" transform="rotate(35.79 181.4 258.76)"/>
<ellipse cx="191" cy="267.88" rx="6.19" ry="2.85" fill="#f0e400" transform="rotate(37.25 191 267.88)"/>
<ellipse cx="200.6" cy="277.47" rx="6.31" ry="2.85" fill="#f0e400" transform="rotate(38.65 200.6 277.47)"/>
<ellipse cx="210.2" cy="287.52" rx="6.44" ry="2.85" fill="#f0e400" transform="rotate(39.97 210.2 287.52)"/>
<ellipse cx="219.8" cy="298.04" rx="6.56" ry="2.85" fill="#f0e400" transform="rotate(41.24 219.8 298.04)"/>
<ellipse cx="229.4" cy="309.02" rx="6.69" ry="2.85" fill="#f0e400" transform="rotate(42.45 229.4 309.02)"/>
<ellipse cx="239" cy="320.47" rx="6.82" ry="2.85" fill="#f0e400" transform="rotate(43.6 239 320.47)"/>
<ellipse cx="226.9" cy="258.99" rx="6.51" ry="2.85" fill="#f0e400" transform="rotate(40.73 226.9 258.99)"/>
<ellipse cx="236.5" cy="269.55" rx="6.51" ry="2.85" fill="#f0e400" transform="rotate(40.73 236.5 269.55)"/>
<ellipse cx="36.3" cy="294.06" rx="5.91" ry="2.85" fill="#f0e400" transform="rotate(33.46 36.3 294.06)"/>
<ellipse cx="45.9" cy="302.41" rx="5.98" ry="2.85" fill="#f0e400" transform="rotate(34.53 45.9 302.41)"/>
<ellipse cx="55.5" cy="311.07" rx="6.06" ry="2.85" fill="#f0e400" transform="rotate(35.57 55.5 311.07)"/>
<ellipse cx="65.1" cy="320.04" rx="6.14" ry="2.85" fill="#f0e400" transform="rotate(36.58 65.1 320.04)"/>
<ellipse cx="74.7" cy="329.34" rx="6.22" ry="2.85" fill="#f0e400" transform="rotate(37.55 74.7 329.34)"/>
<ellipse cx="84.3" cy="338.94" rx="6.3" ry="2.85" fill="#f0e400" transform="rotate(38.49 84.3 338.94)"/>
<ellipse cx="93.9" cy="348.87" rx="6.38" ry="2.85" fill="#f0e400" transform="rotate(39.4 93.9 348.87)"/>
<ellipse cx="103.5" cy="359.11" rx="6.47" ry="2.85" fill="#f0e400" transform="rotate(40.28 103.5 359.11)"/>
<ellipse cx="113.1" cy="369.66" rx="6.55" ry="2.85" fill="#f0e400" transform="rotate(41.14 113.1 369.66)"/>
<ellipse cx="122.7" cy="380.53" rx="6.64" ry="2.85" fill="#f0e400" transform="rotate(41.96 122.7 380.53)"/>
<ellipse cx="132.3" cy="391.72" rx="6.72" ry="2.85" fill="#f0e400" transform="rotate(42.76 132.3 391.72)"/>
<ellipse cx="141.9" cy="403.22" rx="6.81" ry="2.85" fill="#f0e400" transform="rotate(43.54 141.9 403.22)"/>
<ellipse cx="151.5" cy="415.04" rx="6.9" ry="2.85" fill="#f0e400" transform="rotate(44.29 151.5 415.04)"/>
<ellipse cx="161.1" cy="427.18" rx="6.99" ry="2.85" fill="#f0e400" transform="rotate(45.01 161.1 427.18)"/>
<ellipse cx="170.7" cy="439.63" rx="7.08" ry="2.85" fill="#f0e400" transform="rotate(45.71 170.7 439.63)"/>
<ellipse cx="37.4" cy="334.05" rx="6.07" ry="2.85" fill="#f0e400" transform="rotate(35.77 37.4 334.05)"/>
<ellipse cx="47" cy="343.07" rx="6.14" ry="2.85" fill="#f0e400" transform="rotate(36.65 47 343.07)"/>
<ellipse cx="56.6" cy="352.37" rx="6.21" ry="2.85" fill="#f0e400" transform="rotate(37.51 56.6 352.37)"/>
<ellipse cx="66.2" cy="361.94" rx="6.28" ry="2.85" fill="#f0e400" transform="rotate(38.33 66.2 361.94)"/>
<ellipse cx="75.8" cy="371.8" rx="6.36" ry="2.85" fill="#f0e400" transform="rotate(39.14 75.8 371.8)"/>
<ellipse cx="85.4" cy="381.92" rx="6.43" ry="2.85" fill="#f0e400" transform="rotate(39.92 85.4 381.92)"/>
<ellipse cx="95" cy="392.33" rx="6.5" ry="2.85" fill="#f0e400" transform="rotate(40.69 95 392.33)"/>
<ellipse cx="104.6" cy="403.01" rx="6.58" ry="2.85" fill="#f0e400" transform="rotate(41.42 104.6 403.01)"/>
<ellipse cx="114.2" cy="413.97" rx="6.66" ry="2.85" fill="#f0e400" transform="rotate(42.14 114.2 413.97)"/>
<ellipse cx="123.8" cy="425.21" rx="6.73" ry="2.85" fill="#f0e400" transform="rotate(42.84 123.8 425.21)"/>
<ellipse cx="133.4" cy="436.73" rx="6.81" ry="2.85" fill="#f0e400" transform="rotate(43.52 133.4 436.73)"/>
<ellipse cx="143" cy="448.52" rx="6.89" ry="2.85" fill="#f0e400" transform="rotate(44.18 143 448.52)"/>
<ellipse cx="39.4" cy="373.76" rx="6.82" ry="2.85" fill="#f0e400" transform="rotate(43.61 39.4 373.76)"/>
<ellipse cx="49" cy="385.36" rx="6.77" ry="2.85" fill="#f0e400" transform="rotate(43.17 49 385.36)"/>
<ellipse cx="58.6" cy="396.78" rx="6.72" ry="2.85" fill="#f0e400" transform="rotate(42.72 58.6 396.78)"/>
<ellipse cx="68.2" cy="408.01" rx="6.67" ry="2.85" fill="#f0e400" transform="rotate(42.26 68.2 408.01)"/>
<ellipse cx="77.8" cy="419.06" rx="6.62" ry="2.85" fill="#f0e400" transform="rotate(41.79 77.8 419.06)"/>
<ellipse cx="87.4" cy="429.93" rx="6.57" ry="2.85" fill="#f0e400" transform="rotate(41.31 87.4 429.93)"/>
<ellipse cx="97" cy="440.62" rx="6.52" ry="2.85" fill="#f0e400" transform="rotate(40.82 97 440.62)"/>
<ellipse cx="106.6" cy="451.12" rx="6.47" ry="2.85" fill="#f0e400" transform="rotate(40.32 106.6 451.12)"/>
<ellipse cx="43.8" cy="419.02" rx="6.77" ry="2.85" fill="#f0e400" transform="rotate(43.19 43.8 419.02)"/>
<ellipse cx="53.4" cy="430.54" rx="6.77" ry="2.85" fill="#f0e400" transform="rotate(43.19 53.4 430.54)"/>
<ellipse cx="63" cy="442.05" rx="6.77" ry="2.85" fill="#f0e400" transform="rotate(43.19 63 442.05)"/>
<ellipse cx="34.7" cy="252.26" rx="4.56" ry="2.7" fill="#f41408" transform="rotate(32.8 34.7 252.26)"/>
<ellipse cx="44.3" cy="260.38" rx="4.62" ry="2.7" fill="#f41408" transform="rotate(33.68 44.3 260.38)"/>
<ellipse cx="53.9" cy="268.76" rx="4.68" ry="2.7" fill="#f41408" transform="rotate(34.54 53.9 268.76)"/>
<ellipse cx="63.5" cy="277.39" rx="4.74" ry="2.7" fill="#f41408" transform="rotate(35.38 63.5 277.39)"/>
<ellipse cx="73.1" cy="286.28" rx="4.81" ry="2.7" fill="#f41408" transform="rotate(36.19 73.1 286.28)"/>
<ellipse cx="82.7" cy="295.42" rx="4.87" ry="2.7" fill="#f41408" transform="rotate(36.99 82.7 295.42)"/>
<ellipse cx="92.3" cy="304.81" rx="4.93" ry="2.7" fill="#f41408" transform="rotate(37.76 92.3 304.81)"/>
<ellipse cx="101.9" cy="314.46" rx="5" ry="2.7" fill="#f41408" transform="rotate(38.51 101.9 314.46)"/>
<ellipse cx="111.5" cy="324.36" rx="5.07" ry="2.7" fill="#f41408" transform="rotate(39.25 111.5 324.36)"/>
<ellipse cx="121.1" cy="334.51" rx="5.13" ry="2.7" fill="#f41408" transform="rotate(39.96 121.1 334.51)"/>
<ellipse cx="130.7" cy="344.92" rx="5.2" ry="2.7" fill="#f41408" transform="rotate(40.66 130.7 344.92)"/>
<ellipse cx="140.3" cy="355.58" rx="5.27" ry="2.7" fill="#f41408" transform="rotate(41.33 140.3 355.58)"/>
<ellipse cx="149.9" cy="366.49" rx="5.34" ry="2.7" fill="#f41408" transform="rotate(41.99 149.9 366.49)"/>
<ellipse cx="159.5" cy="377.66" rx="5.41" ry="2.7" fill="#f41408" transform="rotate(42.64 159.5 377.66)"/>
<ellipse cx="169.1" cy="389.08" rx="5.48" ry="2.7" fill="#f41408" transform="rotate(43.27 169.1 389.08)"/>
<ellipse cx="178.7" cy="400.76" rx="5.55" ry="2.7" fill="#f41408" transform="rotate(43.88 178.7 400.76)"/>
<ellipse cx="188.3" cy="412.69" rx="5.63" ry="2.7" fill="#f41408" transform="rotate(44.47 188.3 412.69)"/>
<ellipse cx="197.9" cy="424.87" rx="5.7" ry="2.7" fill="#f41408" transform="rotate(45.05 197.9 424.87)"/>
<ellipse cx="207.5" cy="437.31" rx="5.77" ry="2.7" fill="#f41408" transform="rotate(45.62 207.5 437.31)"/>
<ellipse cx="217.1" cy="450" rx="5.85" ry="2.7" fill="#f41408" transform="rotate(46.17 217.1 450)"/>
<ellipse cx="78.8" cy="250.47" rx="4.63" ry="2.7" fill="#f41408" transform="rotate(33.87 78.8 250.47)"/>
<ellipse cx="88.4" cy="258.92" rx="4.7" ry="2.7" fill="#f41408" transform="rotate(34.83 88.4 258.92)"/>
<ellipse cx="98" cy="267.65" rx="4.77" ry="2.7" fill="#f41408" transform="rotate(35.75 98 267.65)"/>
<ellipse cx="107.6" cy="276.67" rx="4.84" ry="2.7" fill="#f41408" transform="rotate(36.65 107.6 276.67)"/>
<ellipse cx="117.2" cy="285.97" rx="4.92" ry="2.7" fill="#f41408" transform="rotate(37.53 117.2 285.97)"/>
<ellipse cx="126.8" cy="295.55" rx="4.99" ry="2.7" fill="#f41408" transform="rotate(38.38 126.8 295.55)"/>
<ellipse cx="136.4" cy="305.42" rx="5.06" ry="2.7" fill="#f41408" transform="rotate(39.2 136.4 305.42)"/>
<ellipse cx="146" cy="315.57" rx="5.14" ry="2.7" fill="#f41408" transform="rotate(40 146 315.57)"/>
<ellipse cx="155.6" cy="326.01" rx="5.21" ry="2.7" fill="#f41408" transform="rotate(40.78 155.6 326.01)"/>
<ellipse cx="165.2" cy="336.73" rx="5.29" ry="2.7" fill="#f41408" transform="rotate(41.53 165.2 336.73)"/>
<ellipse cx="174.8" cy="347.74" rx="5.37" ry="2.7" fill="#f41408" transform="rotate(42.26 174.8 347.74)"/>
<ellipse cx="184.4" cy="359.03" rx="5.45" ry="2.7" fill="#f41408" transform="rotate(42.97 184.4 359.03)"/>
<ellipse cx="194" cy="370.6" rx="5.53" ry="2.7" fill="#f41408" transform="rotate(43.67 194 370.6)"/>
<ellipse cx="203.6" cy="382.45" rx="5.61" ry="2.7" fill="#f41408" transform="rotate(44.34 203.6 382.45)"/>
<ellipse cx="213.2" cy="394.59" rx="5.69" ry="2.7" fill="#f41408" transform="rotate(44.99 213.2 394.59)"/>
<ellipse cx="222.8" cy="407.02" rx="5.77" ry="2.7" fill="#f41408" transform="rotate(45.62 222.8 407.02)"/>
<ellipse cx="232.4" cy="419.73" rx="5.85" ry="2.7" fill="#f41408" transform="rotate(46.24 232.4 419.73)"/>
<ellipse cx="242" cy="432.72" rx="5.94" ry="2.7" fill="#f41408" transform="rotate(46.84 242 432.72)"/>
<ellipse cx="126.4" cy="250.21" rx="4.75" ry="2.7" fill="#f41408" transform="rotate(35.52 126.4 250.21)"/>
<ellipse cx="136" cy="259.18" rx="4.84" ry="2.7" fill="#f41408" transform="rotate(36.59 136 259.18)"/>
<ellipse cx="145.6" cy="268.49" rx="4.92" ry="2.7" fill="#f41408" transform="rotate(37.63 145.6 268.49)"/>
<ellipse cx="155.2" cy="278.13" rx="5.01" ry="2.7" fill="#f41408" transform="rotate(38.63 155.2 278.13)"/>
<ellipse cx="164.8" cy="288.11" rx="5.1" ry="2.7" fill="#f41408" transform="rotate(39.6 164.8 288.11)"/>
<ellipse cx="174.4" cy="298.43" rx="5.19" ry="2.7" fill="#f41408" transform="rotate(40.53 174.4 298.43)"/>
<ellipse cx="184" cy="309.09" rx="5.28" ry="2.7" fill="#f41408" transform="rotate(41.43 184 309.09)"/>
<ellipse cx="193.6" cy="320.08" rx="5.37" ry="2.7" fill="#f41408" transform="rotate(42.3 193.6 320.08)"/>
<ellipse cx="203.2" cy="331.41" rx="5.47" ry="2.7" fill="#f41408" transform="rotate(43.14 203.2 331.41)"/>
<ellipse cx="212.8" cy="343.08" rx="5.56" ry="2.7" fill="#f41408" transform="rotate(43.95 212.8 343.08)"/>
<ellipse cx="222.4" cy="355.08" rx="5.66" ry="2.7" fill="#f41408" transform="rotate(44.74 222.4 355.08)"/>
<ellipse cx="232" cy="367.42" rx="5.76" ry="2.7" fill="#f41408" transform="rotate(45.49 232 367.42)"/>
<ellipse cx="241.6" cy="380.1" rx="5.85" ry="2.7" fill="#f41408" transform="rotate(46.23 241.6 380.1)"/>
<ellipse cx="171.8" cy="250.11" rx="4.66" ry="2.7" fill="#f41408" transform="rotate(34.25 171.8 250.11)"/>
<ellipse cx="181.4" cy="258.76" rx="4.77" ry="2.7" fill="#f41408" transform="rotate(35.79 181.4 258.76)"/>
<ellipse cx="191" cy="267.88" rx="4.89" ry="2.7" fill="#f41408" transform="rotate(37.25 191 267.88)"/>
<ellipse cx="200.6" cy="277.47" rx="5.01" ry="2.7" fill="#f41408" transform="rotate(38.65 200.6 277.47)"/>
<ellipse cx="210.2" cy="287.52" rx="5.14" ry="2.7" fill="#f41408" transform="rotate(39.97 210.2 287.52)"/>
<ellipse cx="219.8" cy="298.04" rx="5.26" ry="2.7" fill="#f41408" transform="rotate(41.24 219.8 298.04)"/>
<ellipse cx="229.4" cy="309.02" rx="5.39" ry="2.7" fill="#f41408" transform="rotate(42.45 229.4 309.02)"/>
<ellipse cx="239" cy="320.47" rx="5.52" ry="2.7" fill="#f41408" transform="rotate(43.6 239 320.47)"/>
<ellipse cx="226.9" cy="258.99" rx="5.21" ry="2.7" fill="#f41408" transform="rotate(40.73 226.9 258.99)"/>
<ellipse cx="236.5" cy="269.55" rx="5.21" ry="2.7" fill="#f41408" transform="rotate(40.73 236.5 269.55)"/>
<ellipse cx="36.3" cy="294.06" rx="4.61" ry="2.7" fill="#f41408" transform="rotate(33.46 36.3 294.06)"/>
<ellipse cx="45.9" cy="302.41" rx="4.68" ry="2.7" fill="#f41408" transform="rotate(34.53 45.9 302.41)"/>
<ellipse cx="55.5" cy="311.07" rx="4.76" ry="2.7" fill="#f41408" transform="rotate(35.57 55.5 311.07)"/>
<ellipse cx="65.1" cy="320.04" rx="4.84" ry="2.7" fill="#f41408" transform="rotate(36.58 65.1 320.04)"/>
<ellipse cx="74.7" cy="329.34" rx="4.92" ry="2.7" fill="#f41408" transform="rotate(37.55 74.7 329.34)"/>
<ellipse cx="84.3" cy="338.94" rx="5" ry="2.7" fill="#f41408" transform="rotate(38.49 84.3 338.94)"/>
<ellipse cx="93.9" cy="348.87" rx="5.08" ry="2.7" fill="#f41408" transform="rotate(39.4 93.9 348.87)"/>
<ellipse cx="103.5" cy="359.11" rx="5.17" ry="2.7" fill="#f41408" transform="rotate(40.28 103.5 359.11)"/>
<ellipse cx="113.1" cy="369.66" rx="5.25" ry="2.7" fill="#f41408" transform="rotate(41.14 113.1 369.66)"/>
<ellipse cx="122.7" cy="380.53" rx="5.34" ry="2.7" fill="#f41408" transform="rotate(41.96 122.7 380.53)"/>
<ellipse cx="132.3" cy="391.72" rx="5.42" ry="2.7" fill="#f41408" transform="rotate(42.76 132.3 391.72)"/>
<ellipse cx="141.9" cy="403.22" rx="5.51" ry="2.7" fill="#f41408" transform="rotate(43.54 141.9 403.22)"/>
<ellipse cx="151.5" cy="415.04" rx="5.6" ry="2.7" fill="#f41408" transform="rotate(44.29 151.5 415.04)"/>
<ellipse cx="161.1" cy="427.18" rx="5.69" ry="2.7" fill="#f41408" transform="rotate(45.01 161.1 427.18)"/>
<ellipse cx="170.7" cy="439.63" rx="5.78" ry="2.7" fill="#f41408" transform="rotate(45.71 170.7 439.63)"/>
<ellipse cx="37.4" cy="334.05" rx="4.77" ry="2.7" fill="#f41408" transform="rotate(35.77 37.4 334.05)"/>
<ellipse cx="47" cy="343.07" rx="4.84" ry="2.7" fill="#f41408" transform="rotate(36.65 47 343.07)"/>
<ellipse cx="56.6" cy="352.37" rx="4.91" ry="2.7" fill="#f41408" transform="rotate(37.51 56.6 352.37)"/>
<ellipse cx="66.2" cy="361.94" rx="4.98" ry="2.7" fill="#f41408" transform="rotate(38.33 66.2 361.94)"/>
<ellipse cx="75.8" cy="371.8" rx="5.06" ry="2.7" fill="#f41408" transform="rotate(39.14 75.8 371.8)"/>
<ellipse cx="85.4" cy="381.92" rx="5.13" ry="2.7" fill="#f41408" transform="rotate(39.92 85.4 381.92)"/>
<ellipse cx="95" cy="392.33" rx="5.2" ry="2.7" fill="#f41408" transform="rotate(40.69 95 392.33)"/>
<ellipse cx="104.6" cy="403.01" rx="5.28" ry="2.7" fill="#f41408" transform="rotate(41.42 104.6 403.01)"/>
<ellipse cx="114.2" cy="413.97" rx="5.36" ry="2.7" fill="#f41408" transform="rotate(42.14 114.2 413.97)"/>
<ellipse cx="123.8" cy="425.21" rx="5.43" ry="2.7" fill="#f41408" transform="rotate(42.84 123.8 425.21)"/>
<ellipse cx="133.4" cy="436.73" rx="5.51" ry="2.7" fill="#f41408" transform="rotate(43.52 133.4 436.73)"/>
<ellipse cx="143" cy="448.52" rx="5.59" ry="2.7" fill="#f41408" transform="rotate(44.18 143 448.52)"/>
<ellipse cx="39.4" cy="373.76" rx="5.52" ry="2.7" fill="#f41408" transform="rotate(43.61 39.4 373.76)"/>
<ellipse cx="49" cy="385.36" rx="5.47" ry="2.7" fill="#f41408" transform="rotate(43.17 49 385.36)"/>
<ellipse cx="58.6" cy="396.78" rx="5.42" ry="2.7" fill="#f41408" transform="rotate(42.72 58.6 396.78)"/>
<ellipse cx="68.2" cy="408.01" rx="5.37" ry="2.7" fill="#f41408" transform="rotate(42.26 68.2 408.01)"/>
<ellipse cx="77.8" cy="419.06" rx="5.32" ry="2.7" fill="#f41408" transform="rotate(41.79 77.8 419.06)"/>
<ellipse cx="87.4" cy="429.93" rx="5.27" ry="2.7" fill="#f41408" transform="rotate(41.31 87.4 429.93)"/>
<ellipse cx="97" cy="440.62" rx="5.22" ry="2.7" fill="#f41408" transform="rotate(40.82 97 440.62)"/>
<ellipse cx="106.6" cy="451.12" rx="5.17" ry="2.7" fill="#f41408" transform="rotate(40.32 106.6 451.12)"/>
<ellipse cx="43.8" cy="419.02" rx="5.47" ry="2.7" fill="#f41408" transform="rotate(43.19 43.8 419.02)"/>
<ellipse cx="53.4" cy="430.54" rx="5.47" ry="2.7" fill="#f41408" transform="rotate(43.19 53.4 430.54)"/>
<ellipse cx="63" cy="442.05" rx="5.47" ry="2.7" fill="#f41408" transform="rotate(43.19 63 442.05)"/>
<ellipse cx="34.7" cy="252.26" rx="2.75" ry="1.1" fill="#c00000" fill-opacity="0.55" transform="rotate(32.8 34.7 252.26)"/>
<ellipse cx="44.3" cy="260.38" rx="2.78" ry="1.1" fill="#c00000" fill-opacity="0.55" transform="rotate(33.68 44.3 260.38)"/>
<ellipse cx="53.9" cy="268.76" rx="2.82" ry="1.1" fill="#c00000" fill-opacity="0.55" transform="rotate(34.54 53.9 268.76)"/>
<ellipse cx="63.5" cy="277.39" rx="2.86" ry="1.1" fill="#c00000" fill-opacity="0.55" transform="rotate(35.38 63.5 277.39)"/>
<ellipse cx="73.1" cy="286.28" rx="2.9" ry="1.1" fill="#c00000" fill-opacity="0.55" transform="rotate(36.19 73.1 286.28)"/>
<ellipse cx="82.7" cy="295.42" rx="2.94" ry="1.1" fill="#c00000" fill-opacity="0.55" transform="rotate(36.99 82.7 295.42)"/>
<ellipse cx="92.3" cy="304.81" rx="2.97" ry="1.1" fill="#c00000" fill-opacity="0.55" transform="rotate(37.76 92.3 304.81)"/>
<ellipse cx="101.9" cy="314.46" rx="3.01" ry="1.1" fill="#c00000" fill-opacity="0.55" transform="rotate(38.51 101.9 314.46)"/>
<ellipse cx="111.5" cy="324.36" rx="3.05" ry="1.1" fill="#c00000" fill-opacity="0.55" transform="rotate(39.25 111.5 324.36)"/>
<ellipse cx="121.1" cy="334.51" rx="3.09" ry="1.1" fill="#c00000" fill-opacity="0.55" transform="rotate(39.96 121.1 334.51)"/>
<ellipse cx="130.7" cy="344.92" rx="3.14" ry="1.1" fill="#c00000" fill-opacity="0.55" transform="rotate(40.66 130.7 344.92)"/>
<ellipse cx="140.3" cy="355.58" rx="3.18" ry="1.1" fill="#c00000" fill-opacity="0.55" transform="rotate(41.33 140.3 355.58)"/>
<ellipse cx="149.9" cy="366.49" rx="3.22" ry="1.1" fill="#c00000" fill-opacity="0.55" transform="rotate(41.99 149.9 366.49)"/>
<ellipse cx="159.5" cy="377.66" rx="3.26" ry="1.1" fill="#c00000" fill-opacity="0.55" transform="rotate(42.64 159.5 377.66)"/>
<ellipse cx="169.1" cy="389.08" rx="3.3" ry="1.1" fill="#c00000" fill-opacity="0.55" transform="rotate(43.27 169.1 389.08)"/>
<ellipse cx="178.7" cy="400.76" rx="3.35" ry="1.1" fill="#c00000" fill-opacity="0.55" transform="rotate(43.88 178.7 400.76)"/>
<ellipse cx="188.3" cy="412.69" rx="3.39" ry="1.1" fill="#c00000" fill-opacity="0.55" transform="rotate(44.47 188.3 412.69)"/>
<ellipse cx="197.9" cy="424.87" rx="3.43" ry="1.1" fill="#c00000" fill-opacity="0.55" transform="rotate(45.05 197.9 424.87)"/>
<ellipse cx="207.5" cy="437.31" rx="3.48" ry="1.1" fill="#c00000" fill-opacity="0.55" transform="rotate(45.62 207.5 437.31)"/>
<ellipse cx="217.1" cy="450" rx="3.52" ry="1.1" fill="#c00000" fill-opacity="0.55" transform="rotate(46.17 217.1 450)"/>
<ellipse cx="78.8" cy="250.47" rx="2.79" ry="1.1" fill="#c00000" fill-opacity="0.55" transform="rotate(33.87 78.8 250.47)"/>
<ellipse cx="88.4" cy="258.92" rx="2.83" ry="1.1" fill="#c00000" fill-opacity="0.55" transform="rotate(34.83 88.4 258.92)"/>
<ellipse cx="98" cy="267.65" rx="2.88" ry="1.1" fill="#c00000" fill-opacity="0.55" transform="rotate(35.75 98 267.65)"/>
<ellipse cx="107.6" cy="276.67" rx="2.92" ry="1.1" fill="#c00000" fill-opacity="0.55" transform="rotate(36.65 107.6 276.67)"/>
<ellipse cx="117.2" cy="285.97" rx="2.96" ry="1.1" fill="#c00000" fill-opacity="0.55" transform="rotate(37.53 117.2 285.97)"/>
<ellipse cx="126.8" cy="295.55" rx="3.01" ry="1.1" fill="#c00000" fill-opacity="0.55" transform="rotate(38.38 126.8 295.55)"/>
<ellipse cx="136.4" cy="305.42" rx="3.05" ry="1.1" fill="#c00000" fill-opacity="0.55" transform="rotate(39.2 136.4 305.42)"/>
<ellipse cx="146" cy="315.57" rx="3.1" ry="1.1" fill="#c00000" fill-opacity="0.55" transform="rotate(40 146 315.57)"/>
<ellipse cx="155.6" cy="326.01" rx="3.14" ry="1.1" fill="#c00000" fill-opacity="0.55" transform="rotate(40.78 155.6 326.01)"/>
<ellipse cx="165.2" cy="336.73" rx="3.19" ry="1.1" fill="#c00000" fill-opacity="0.55" transform="rotate(41.53 165.2 336.73)"/>
<ellipse cx="174.8" cy="347.74" rx="3.24" ry="1.1" fill="#c00000" fill-opacity="0.55" transform="rotate(42.26 174.8 347.74)"/>
<ellipse cx="184.4" cy="359.03" rx="3.28" ry="1.1" fill="#c00000" fill-opacity="0.55" transform="rotate(42.97 184.4 359.03)"/>
<ellipse cx="194" cy="370.6" rx="3.33" ry="1.1" fill="#c00000" fill-opacity="0.55" transform="rotate(43.67 194 370.6)"/>
<ellipse cx="203.6" cy="382.45" rx="3.38" ry="1.1" fill="#c00000" fill-opacity="0.55" transform="rotate(44.34 203.6 382.45)"/>
<ellipse cx="213.2" cy="394.59" rx="3.43" ry="1.1" fill="#c00000" fill-opacity="0.55" transform="rotate(44.99 213.2 394.59)"/>
<ellipse cx="222.8" cy="407.02" rx="3.48" ry="1.1" fill="#c00000" fill-opacity="0.55" transform="rotate(45.62 222.8 407.02)"/>
<ellipse cx="232.4" cy="419.73" rx="3.53" ry="1.1" fill="#c00000" fill-opacity="0.55" transform="rotate(46.24 232.4 419.73)"/>
<ellipse cx="242" cy="432.72" rx="3.58" ry="1.1" fill="#c00000" fill-opacity="0.55" transform="rotate(46.84 242 432.72)"/>
<ellipse cx="126.4" cy="250.21" rx="2.87" ry="1.1" fill="#c00000" fill-opacity="0.55" transform="rotate(35.52 126.4 250.21)"/>
<ellipse cx="136" cy="259.18" rx="2.92" ry="1.1" fill="#c00000" fill-opacity="0.55" transform="rotate(36.59 136 259.18)"/>
<ellipse cx="145.6" cy="268.49" rx="2.97" ry="1.1" fill="#c00000" fill-opacity="0.55" transform="rotate(37.63 145.6 268.49)"/>
<ellipse cx="155.2" cy="278.13" rx="3.02" ry="1.1" fill="#c00000" fill-opacity="0.55" transform="rotate(38.63 155.2 278.13)"/>
<ellipse cx="164.8" cy="288.11" rx="3.07" ry="1.1" fill="#c00000" fill-opacity="0.55" transform="rotate(39.6 164.8 288.11)"/>
<ellipse cx="174.4" cy="298.43" rx="3.13" ry="1.1" fill="#c00000" fill-opacity="0.55" transform="rotate(40.53 174.4 298.43)"/>
<ellipse cx="184" cy="309.09" rx="3.18" ry="1.1" fill="#c00000" fill-opacity="0.55" transform="rotate(41.43 184 309.09)"/>
<ellipse cx="193.6" cy="320.08" rx="3.24" ry="1.1" fill="#c00000" fill-opacity="0.55" transform="rotate(42.3 193.6 320.08)"/>
<ellipse cx="203.2" cy="331.41" rx="3.3" ry="1.1" fill="#c00000" fill-opacity="0.55" transform="rotate(43.14 203.2 331.41)"/>
<ellipse cx="212.8" cy="343.08" rx="3.35" ry="1.1" fill="#c00000" fill-opacity="0.55" transform="rotate(43.95 212.8 343.08)"/>
<ellipse cx="222.4" cy="355.08" rx="3.41" ry="1.1" fill="#c00000" fill-opacity="0.55" transform="rotate(44.74 222.4 355.08)"/>
<ellipse cx="232" cy="367.42" rx="3.47" ry="1.1" fill="#c00000" fill-opacity="0.55" transform="rotate(45.49 232 367.42)"/>
<ellipse cx="241.6" cy="380.1" rx="3.53" ry="1.1" fill="#c00000" fill-opacity="0.55" transform="rotate(46.23 241.6 380.1)"/>
<ellipse cx="171.8" cy="250.11" rx="2.81" ry="1.1" fill="#c00000" fill-opacity="0.55" transform="rotate(34.25 171.8 250.11)"/>
<ellipse cx="181.4" cy="258.76" rx="2.88" ry="1.1" fill="#c00000" fill-opacity="0.55" transform="rotate(35.79 181.4 258.76)"/>
<ellipse cx="191" cy="267.88" rx="2.95" ry="1.1" fill="#c00000" fill-opacity="0.55" transform="rotate(37.25 191 267.88)"/>
<ellipse cx="200.6" cy="277.47" rx="3.02" ry="1.1" fill="#c00000" fill-opacity="0.55" transform="rotate(38.65 200.6 277.47)"/>
<ellipse cx="210.2" cy="287.52" rx="3.1" ry="1.1" fill="#c00000" fill-opacity="0.55" transform="rotate(39.97 210.2 287.52)"/>
<ellipse cx="219.8" cy="298.04" rx="3.17" ry="1.1" fill="#c00000" fill-opacity="0.55" transform="rotate(41.24 219.8 298.04)"/>
<ellipse cx="229.4" cy="309.02" rx="3.25" ry="1.1" fill="#c00000" fill-opacity="0.55" transform="rotate(42.45 229.4 309.02)"/>
<ellipse cx="239" cy="320.47" rx="3.33" ry="1.1" fill="#c00000" fill-opacity="0.55" transform="rotate(43.6 239 320.47)"/>
<ellipse cx="226.9" cy="258.99" rx="3.14" ry="1.1" fill="#c00000" fill-opacity="0.55" transform="rotate(40.73 226.9 258.99)"/>
<ellipse cx="236.5" cy="269.55" rx="3.14" ry="1.1" fill="#c00000" fill-opacity="0.55" transform="rotate(40.73 236.5 269.55)"/>
<ellipse cx="36.3" cy="294.06" rx="2.78" ry="1.1" fill="#c00000" fill-opacity="0.55" transform="rotate(33.46 36.3 294.06)"/>
<ellipse cx="45.9" cy="302.41" rx="2.82" ry="1.1" fill="#c00000" fill-opacity="0.55" transform="rotate(34.53 45.9 302.41)"/>
<ellipse cx="55.5" cy="311.07" rx="2.87" ry="1.1" fill="#c00000" fill-opacity="0.55" transform="rotate(35.57 55.5 311.07)"/>
<ellipse cx="65.1" cy="320.04" rx="2.92" ry="1.1" fill="#c00000" fill-opacity="0.55" transform="rotate(36.58 65.1 320.04)"/>
<ellipse cx="74.7" cy="329.34" rx="2.96" ry="1.1" fill="#c00000" fill-opacity="0.55" transform="rotate(37.55 74.7 329.34)"/>
<ellipse cx="84.3" cy="338.94" rx="3.01" ry="1.1" fill="#c00000" fill-opacity="0.55" transform="rotate(38.49 84.3 338.94)"/>
<ellipse cx="93.9" cy="348.87" rx="3.06" ry="1.1" fill="#c00000" fill-opacity="0.55" transform="rotate(39.4 93.9 348.87)"/>
<ellipse cx="103.5" cy="359.11" rx="3.11" ry="1.1" fill="#c00000" fill-opacity="0.55" transform="rotate(40.28 103.5 359.11)"/>
<ellipse cx="113.1" cy="369.66" rx="3.16" ry="1.1" fill="#c00000" fill-opacity="0.55" transform="rotate(41.14 113.1 369.66)"/>
<ellipse cx="122.7" cy="380.53" rx="3.22" ry="1.1" fill="#c00000" fill-opacity="0.55" transform="rotate(41.96 122.7 380.53)"/>
<ellipse cx="132.3" cy="391.72" rx="3.27" ry="1.1" fill="#c00000" fill-opacity="0.55" transform="rotate(42.76 132.3 391.72)"/>
<ellipse cx="141.9" cy="403.22" rx="3.32" ry="1.1" fill="#c00000" fill-opacity="0.55" transform="rotate(43.54 141.9 403.22)"/>
<ellipse cx="151.5" cy="415.04" rx="3.38" ry="1.1" fill="#c00000" fill-opacity="0.55" transform="rotate(44.29 151.5 415.04)"/>
<ellipse cx="161.1" cy="427.18" rx="3.43" ry="1.1" fill="#c00000" fill-opacity="0.55" transform="rotate(45.01 161.1 427.18)"/>
<ellipse cx="170.7" cy="439.63" rx="3.49" ry="1.1" fill="#c00000" fill-opacity="0.55" transform="rotate(45.71 170.7 439.63)"/>
<ellipse cx="37.4" cy="334.05" rx="2.88" ry="1.1" fill="#c00000" fill-opacity="0.55" transform="rotate(35.77 37.4 334.05)"/>
<ellipse cx="47" cy="343.07" rx="2.92" ry="1.1" fill="#c00000" fill-opacity="0.55" transform="rotate(36.65 47 343.07)"/>
<ellipse cx="56.6" cy="352.37" rx="2.96" ry="1.1" fill="#c00000" fill-opacity="0.55" transform="rotate(37.51 56.6 352.37)"/>
<ellipse cx="66.2" cy="361.94" rx="3" ry="1.1" fill="#c00000" fill-opacity="0.55" transform="rotate(38.33 66.2 361.94)"/>
<ellipse cx="75.8" cy="371.8" rx="3.05" ry="1.1" fill="#c00000" fill-opacity="0.55" transform="rotate(39.14 75.8 371.8)"/>
<ellipse cx="85.4" cy="381.92" rx="3.09" ry="1.1" fill="#c00000" fill-opacity="0.55" transform="rotate(39.92 85.4 381.92)"/>
<ellipse cx="95" cy="392.33" rx="3.14" ry="1.1" fill="#c00000" fill-opacity="0.55" transform="rotate(40.69 95 392.33)"/>
<ellipse cx="104.6" cy="403.01" rx="3.18" ry="1.1" fill="#c00000" fill-opacity="0.55" transform="rotate(41.42 104.6 403.01)"/>
<ellipse cx="114.2" cy="413.97" rx="3.23" ry="1.1" fill="#c00000" fill-opacity="0.55" transform="rotate(42.14 114.2 413.97)"/>
<ellipse cx="123.8" cy="425.21" rx="3.27" ry="1.1" fill="#c00000" fill-opacity="0.55" transform="rotate(42.84 123.8 425.21)"/>
<ellipse cx="133.4" cy="436.73" rx="3.32" ry="1.1" fill="#c00000" fill-opacity="0.55" transform="rotate(43.52 133.4 436.73)"/>
<ellipse cx="143" cy="448.52" rx="3.37" ry="1.1" fill="#c00000" fill-opacity="0.55" transform="rotate(44.18 143 448.52)"/>
<ellipse cx="39.4" cy="373.76" rx="3.33" ry="1.1" fill="#c00000" fill-opacity="0.55" transform="rotate(43.61 39.4 373.76)"/>
<ellipse cx="49" cy="385.36" rx="3.3" ry="1.1" fill="#c00000" fill-opacity="0.55" transform="rotate(43.17 49 385.36)"/>
<ellipse cx="58.6" cy="396.78" rx="3.27" ry="1.1" fill="#c00000" fill-opacity="0.55" transform="rotate(42.72 58.6 396.78)"/>
<ellipse cx="68.2" cy="408.01" rx="3.24" ry="1.1" fill="#c00000" fill-opacity="0.55" transform="rotate(42.26 68.2 408.01)"/>
<ellipse cx="77.8" cy="419.06" rx="3.21" ry="1.1" fill="#c00000" fill-opacity="0.55" transform="rotate(41.79 77.8 419.06)"/>
<ellipse cx="87.4" cy="429.93" rx="3.18" ry="1.1" fill="#c00000" fill-opacity="0.55" transform="rotate(41.31 87.4 429.93)"/>
<ellipse cx="97" cy="440.62" rx="3.15" ry="1.1" fill="#c00000" fill-opacity="0.55" transform="rotate(40.82 97 440.62)"/>
<ellipse cx="106.6" cy="451.12" rx="3.12" ry="1.1" fill="#c00000" fill-opacity="0.55" transform="rotate(40.32 106.6 451.12)"/>
<ellipse cx="43.8" cy="419.02" rx="3.3" ry="1.1" fill="#c00000" fill-opacity="0.55" transform="rotate(43.19 43.8 419.02)"/>
<ellipse cx="53.4" cy="430.54" rx="3.3" ry="1.1" fill="#c00000" fill-opacity="0.55" transform="rotate(43.19 53.4 430.54)"/>
<ellipse cx="63" cy="442.05" rx="3.3" ry="1.1" fill="#c00000" fill-opacity="0.55" transform="rotate(43.19 63 442.05)"/>
</g>
<line x1="42.5" y1="264.9" x2="230.5" y2="264.9" stroke="#4cc880" stroke-width="1.05" stroke-dasharray="4.8 4.2"/>
<line x1="42.5" y1="304.9" x2="230.5" y2="304.9" stroke="#4cc880" stroke-width="1.05" stroke-dasharray="4.8 4.2"/>
<line x1="42.5" y1="349.2" x2="230.5" y2="349.2" stroke="#4cc880" stroke-width="1.05" stroke-dasharray="4.8 4.2"/>
</g>
<ellipse cx="141" cy="264.3" rx="13.5" ry="5.2" fill="none" stroke="#45d17c" stroke-width="1.1"/>
<ellipse cx="135" cy="304.9" rx="13.5" ry="5.1" fill="none" stroke="#45d17c" stroke-width="1.1"/>
<ellipse cx="135" cy="348.5" rx="13.5" ry="5" fill="none" stroke="#45d17c" stroke-width="1.1"/>
<text x="138.4" y="278.4" font-size="10.6" text-anchor="start" fill="#f8ec30" font-weight="bold">Sample4</text>
<text x="129.5" y="316.8" font-size="10.6" text-anchor="start" fill="#f8ec30" font-weight="bold">Sample3</text>
<text x="126.8" y="361.3" font-size="10.6" text-anchor="start" fill="#f8ec30" font-weight="bold">Sample2</text>
<text x="37.2" y="278.42" font-size="12.2" text-anchor="end" fill="#111">0.9</text>
<text x="37.2" y="316.54" font-size="12.2" text-anchor="end" fill="#111">0.7</text>
<text x="37.2" y="354.66" font-size="12.2" text-anchor="end" fill="#111">0.5</text>
<text x="37.2" y="392.78" font-size="12.2" text-anchor="end" fill="#111">0.3</text>
<text x="37.2" y="430.9" font-size="12.2" text-anchor="end" fill="#111">0.1</text>
<text x="61.1" y="459" font-size="12.2" text-anchor="middle" fill="#111">360</text>
<text x="98.85" y="459" font-size="12.2" text-anchor="middle" fill="#111">380</text>
<text x="136.6" y="459" font-size="12.2" text-anchor="middle" fill="#111">400</text>
<text x="174.35" y="459" font-size="12.2" text-anchor="middle" fill="#111">420</text>
<text x="212.1" y="459" font-size="12.2" text-anchor="middle" fill="#111">440</text>
<text x="16.2" y="358.7" font-size="12.7" text-anchor="middle" fill="#111" transform="rotate(-90 16.2 358.7)">duty ratio</text>
<text x="137.2" y="473.8" font-size="12.45" text-anchor="middle" fill="#111">wavelength (nm)</text>
<text x="11.3" y="250" font-size="12.5" text-anchor="start" fill="#111">(c)</text>
<rect x="241" y="259" width="5.3" height="182" fill="url(#cbC)"/>
<line x1="246.3" y1="261" x2="248" y2="261" stroke="#555" stroke-width="0.6"/>
<text x="250.6" y="265.2" font-size="12.5" text-anchor="start" fill="#111">0.9</text>
<line x1="246.3" y1="301" x2="248" y2="301" stroke="#555" stroke-width="0.6"/>
<text x="250.6" y="305.2" font-size="12.5" text-anchor="start" fill="#111">0.7</text>
<line x1="246.3" y1="341" x2="248" y2="341" stroke="#555" stroke-width="0.6"/>
<text x="250.6" y="345.2" font-size="12.5" text-anchor="start" fill="#111">0.5</text>
<line x1="246.3" y1="381" x2="248" y2="381" stroke="#555" stroke-width="0.6"/>
<text x="250.6" y="385.2" font-size="12.5" text-anchor="start" fill="#111">0.3</text>
<line x1="246.3" y1="421" x2="248" y2="421" stroke="#555" stroke-width="0.6"/>
<text x="250.6" y="425.2" font-size="12.5" text-anchor="start" fill="#111">0.1</text>
<text x="214.7" y="251" font-size="12.5" text-anchor="start" fill="#111">reflectivity</text>
</g>
<g id="panel-b">
<g clip-path="url(#clB)"><polyline points="319,36.5 319.6,120 320.2,188 321.5,198 323,204 325,205.5 327,203 328.3,205 329.3,206 330.3,190 331.5,41 332.3,120 333,196 334.5,202 336,205 338.5,206.5 340,205.5 341.2,207 342.4,206 343.2,190 344,100 344.8,160 345.6,200 346.5,204.5 348,207 351,208 355,208.4 360,208.3 364,208 367,207.6 368.2,190 369.5,123 370.4,160 371.3,198 372.3,203.5 374,205.3 375.5,205.8 377,204.5 378.3,205.5 379.6,206.3 380.6,190 381.6,120 382.5,58.5 383.3,130 384.2,194 385.2,199.5 386.5,202 388,202.5 389.3,201.5 390.6,204.5 392,206 393.3,195 394.4,120 395.5,52.5 396.3,130 397.2,190 398.3,197 399.5,200.5 401,202 402.5,205 404,206.5 405.6,206 406.6,190 408,96 408.8,150 409.6,191 410.6,199 412,203 414,205.6 415.3,205 416.5,203.5 417.5,200 418.6,195 419.6,196 421,200 422.5,204.5 424.5,207 428,208 432,208.3 436,208 439,207.5 441.5,207.2 443,206.6 444.6,207.3 445.6,200 446.8,179 447.8,188 449.5,200.5 451.5,205 453.5,208 455,200 456.3,150 457.5,109 458.5,140 459.8,175.5 461,192 462.3,198.5 464.3,201.6 466.4,202.8 467.6,204.5 468.6,204 469.5,150 470.5,72.5 471.5,125 472.7,175.5 473.7,190 474.8,196.5 476.8,201.6 478.6,204.3 480,203.5 481,202 482,160 483,92.5 484.3,135 486,175.5 487.2,190 488.4,198 490.5,204.5 492.4,203.6 493.6,204.6 494.6,200 495.6,182 496.4,176 497.3,181 499.5,196 501.8,206 504,208.3 510,208.4 516,208.4 519.6,208 520.3,190 521.5,91 522.5,150 523.5,186 524.6,194 526.8,202.7 529,206 530.3,207.2 531.5,203 532.5,200.5 533.6,202.7 534.6,201 535.5,150 536.2,90 537,71" fill="none" stroke="#151515" stroke-width="1.15" stroke-linejoin="round"/></g>
<circle cx="319" cy="36.5" r="1.7" fill="#fff" stroke="#8a8a8a" stroke-width="0.7"/>
<circle cx="331.5" cy="41" r="1.7" fill="#fff" stroke="#8a8a8a" stroke-width="0.7"/>
<circle cx="344" cy="100" r="1.7" fill="#fff" stroke="#8a8a8a" stroke-width="0.7"/>
<circle cx="357.5" cy="208" r="1.7" fill="#fff" stroke="#8a8a8a" stroke-width="0.7"/>
<circle cx="369.5" cy="123" r="1.7" fill="#fff" stroke="#8a8a8a" stroke-width="0.7"/>
<circle cx="382.5" cy="58.5" r="1.7" fill="#fff" stroke="#8a8a8a" stroke-width="0.7"/>
<circle cx="395.5" cy="52.5" r="1.7" fill="#fff" stroke="#8a8a8a" stroke-width="0.7"/>
<circle cx="408" cy="96" r="1.7" fill="#fff" stroke="#8a8a8a" stroke-width="0.7"/>
<circle cx="419" cy="193" r="1.7" fill="#fff" stroke="#8a8a8a" stroke-width="0.7"/>
<circle cx="434" cy="207.5" r="1.7" fill="#fff" stroke="#8a8a8a" stroke-width="0.7"/>
<circle cx="446.8" cy="178.5" r="1.7" fill="#fff" stroke="#8a8a8a" stroke-width="0.7"/>
<circle cx="457.5" cy="109" r="1.7" fill="#fff" stroke="#8a8a8a" stroke-width="0.7"/>
<circle cx="470.5" cy="72.5" r="1.7" fill="#fff" stroke="#8a8a8a" stroke-width="0.7"/>
<circle cx="483" cy="92.5" r="1.7" fill="#fff" stroke="#8a8a8a" stroke-width="0.7"/>
<circle cx="496.2" cy="175.5" r="1.7" fill="#fff" stroke="#8a8a8a" stroke-width="0.7"/>
<circle cx="509" cy="206.5" r="1.7" fill="#fff" stroke="#8a8a8a" stroke-width="0.7"/>
<circle cx="521.5" cy="91" r="1.7" fill="#fff" stroke="#8a8a8a" stroke-width="0.7"/>
<circle cx="536.5" cy="71" r="1.7" fill="#fff" stroke="#8a8a8a" stroke-width="0.7"/>
<path d="M319 26.8H537.3V209" fill="none" stroke="#3a3a3a" stroke-width="1"/>
<path d="M319 26.8V209H537.3" fill="none" stroke="#1c1c1c" stroke-width="1.4" stroke-linecap="square"/>
<path d="M343.3 209v3.6M343.3 26.8v3.2M375.3 209v3.6M375.3 26.8v3.2M407.3 209v3.6M407.3 26.8v3.2M439.3 209v3.6M439.3 26.8v3.2M471.3 209v3.6M471.3 26.8v3.2M503.3 209v3.6M503.3 26.8v3.2M535.3 209v3.6M535.3 26.8v3.2M327.3 209v2M327.3 26.8v1.8M359.3 209v2M359.3 26.8v1.8M391.3 209v2M391.3 26.8v1.8M423.3 209v2M423.3 26.8v1.8M455.3 209v2M455.3 26.8v1.8M487.3 209v2M487.3 26.8v1.8M519.3 209v2M519.3 26.8v1.8M319 209h-3.6M537.3 209h-3.2M319 172.56h-3.6M537.3 172.56h-3.2M319 136.12h-3.6M537.3 136.12h-3.2M319 99.68h-3.6M537.3 99.68h-3.2M319 63.24h-3.6M537.3 63.24h-3.2M319 26.8h-3.6M537.3 26.8h-3.2M319 190.78h-2M537.3 190.78h-1.8M319 154.34h-2M537.3 154.34h-1.8M319 117.9h-2M537.3 117.9h-1.8M319 81.46h-2M537.3 81.46h-1.8M319 45.02h-2M537.3 45.02h-1.8" stroke="#222" stroke-width="0.9" fill="none"/>
<text x="343.3" y="223" font-size="12.5" text-anchor="middle" fill="#111">0.4</text>
<text x="375.3" y="223" font-size="12.5" text-anchor="middle" fill="#111">0.6</text>
<text x="407.3" y="223" font-size="12.5" text-anchor="middle" fill="#111">0.8</text>
<text x="439.3" y="223" font-size="12.5" text-anchor="middle" fill="#111">1.0</text>
<text x="471.3" y="223" font-size="12.5" text-anchor="middle" fill="#111">1.2</text>
<text x="503.3" y="223" font-size="12.5" text-anchor="middle" fill="#111">1.4</text>
<text x="535.3" y="223" font-size="12.5" text-anchor="middle" fill="#111">1.6</text>
<text x="315.2" y="212.9" font-size="12.5" text-anchor="end" fill="#111">0.0</text>
<text x="315.2" y="176.46" font-size="12.5" text-anchor="end" fill="#111">0.2</text>
<text x="315.2" y="140.02" font-size="12.5" text-anchor="end" fill="#111">0.4</text>
<text x="315.2" y="103.58" font-size="12.5" text-anchor="end" fill="#111">0.6</text>
<text x="315.2" y="67.14" font-size="12.5" text-anchor="end" fill="#111">0.8</text>
<text x="315.2" y="30.7" font-size="12.5" text-anchor="end" fill="#111">1.0</text>
<text x="294" y="116.5" font-size="12.8" text-anchor="middle" fill="#111" transform="rotate(-90 294 116.5)">reflectivity</text>
<text x="430.7" y="235" font-size="12.7" text-anchor="middle" fill="#111">period (μm)</text>
<text x="286.5" y="12.8" font-size="12.5" text-anchor="start" fill="#111">(b)</text>
</g>
<g id="panel-d">
<g clip-path="url(#clD)">
<polyline points="319.2,437 320.5,436.2 324,434.8 328,433 331,430 334.6,426.4 337,431 339,430 341.5,425 343.4,422 345.5,410 347.7,393.6 349,375 350,361 351,330 352,300 353,285 353.8,280.5 354.7,288 355.6,300 356.5,325 357.5,354 358.6,393.6 359.7,426.4 361,429 362.5,425 364.5,408 366.7,395.8 368,410 369.2,420 370.6,426.4 374,435 378,436.3 383,434.5 387,433 391.4,429.6 395,434 401,437 404,434 406.6,430.7 410.4,423 413,429 416.5,427.5 418.5,434 423.4,436.2 424,406.7 424.8,390 426,398 427.5,405 428.6,380 429.5,320 430.3,285 431.3,276.6 433,279.5 434.8,288 436,305 437,345 438,395 439.4,426.4 441.4,435 444.6,434 448,425.3 451.2,432 454.5,434 460,437.3 465.5,436.2 472,434 477.5,436.2 484,437.3 490.5,429.6 494.4,418 498,422 500.3,433 503.5,435 506.8,432.5 507.6,400 508,340 508.5,295 509.5,288 512,287.5 515.5,289.5 516.6,300 517.8,340 519,390 520.3,419.8 522,430.7 524.3,437.3 528.6,434 532,428.5 534,425.3 535.3,433 537,430" fill="none" stroke="#e8323c" stroke-width="1.15" stroke-dasharray="3.7 2.1" stroke-linejoin="round"/>
<polyline points="318.8,418 320.5,417.6 321.6,400 322.6,300 324,288 326,287.3 327.2,300 328.3,320 329.4,370 330.4,410 331.4,430 333.5,437.3 336.2,428.5 338.6,435 341.2,430.7 344.5,438.4 349,437.5 353.8,426.4 357.5,433 361.3,438.4 364,430 366,405 367.4,397 369.1,396.3 370.5,405 372.2,416 373.5,425 374.5,420 375.7,360 376.8,310 377.8,294.3 379,310 380.2,340 381.5,380 383,415 384.8,430.7 386.6,436.8 391,436 395,429.6 398,436.2 401.5,438.2 405.5,438.4 409.5,426 412,433 416.5,437.3 418,425 420,390 422,350 424,320 425.8,303 426.6,330 427.6,380 428.9,402.4 430.2,415 431.7,434 433,420 434.5,402.5 436.5,418 438.5,435 441.4,437.7 445.5,437.2 449,432.5 451.6,436 455.5,438.4 459,437.5 461.7,430.7 464,432 465.5,436 467.5,429.6 469,436.2 471.2,435 472.3,420 473.6,370 475,320 476.5,295 478,289.3 479.4,296 480.5,330 481.6,380 482.8,430.7 485,436.2 487.2,433 489.4,419.4 491.5,429.6 493.7,437.3 497,438.2 500.3,436 502.5,432.5 504.7,436 509,435 513.4,434 517.7,436.2 520.3,419.8 523.2,429.6 525.8,431.8 526.8,410 528,350 529.3,305 531.3,290 533,293 534.5,310 536,345 537,358" fill="none" stroke="#333" stroke-width="1.1" stroke-linejoin="round"/>
</g>
<path d="M318.5 256.5H537.1V439" fill="none" stroke="#3a3a3a" stroke-width="1"/>
<path d="M318.5 256.5V439H537.1" fill="none" stroke="#1c1c1c" stroke-width="1.4" stroke-linecap="square"/>
<path d="M318.5 439v3.6M318.5 256.5v3.2M362.2 439v3.6M362.2 256.5v3.2M405.9 439v3.6M405.9 256.5v3.2M449.6 439v3.6M449.6 256.5v3.2M493.3 439v3.6M493.3 256.5v3.2M537 439v3.6M537 256.5v3.2M340.35 439v2M340.35 256.5v1.8M384.05 439v2M384.05 256.5v1.8M427.75 439v2M427.75 256.5v1.8M471.45 439v2M471.45 256.5v1.8M515.15 439v2M515.15 256.5v1.8M318.5 439h-3.6M537.1 439h-3.2M318.5 402.5h-3.6M537.1 402.5h-3.2M318.5 366h-3.6M537.1 366h-3.2M318.5 329.5h-3.6M537.1 329.5h-3.2M318.5 293h-3.6M537.1 293h-3.2M318.5 256.5h-3.6M537.1 256.5h-3.2M318.5 420.75h-2M537.1 420.75h-1.8M318.5 384.25h-2M537.1 384.25h-1.8M318.5 347.75h-2M537.1 347.75h-1.8M318.5 311.25h-2M537.1 311.25h-1.8M318.5 274.75h-2M537.1 274.75h-1.8" stroke="#222" stroke-width="0.9" fill="none"/>
<text x="319" y="458.4" font-size="12.5" text-anchor="middle" fill="#111">0.0</text>
<text x="311.6" y="444" font-size="12.3" text-anchor="end" fill="#111">0.0</text>
<text x="362.7" y="458.4" font-size="12.5" text-anchor="middle" fill="#111">0.2</text>
<text x="311.6" y="407.5" font-size="12.3" text-anchor="end" fill="#111">0.2</text>
<text x="406.4" y="458.4" font-size="12.5" text-anchor="middle" fill="#111">0.4</text>
<text x="311.6" y="371" font-size="12.3" text-anchor="end" fill="#111">0.4</text>
<text x="450.1" y="458.4" font-size="12.5" text-anchor="middle" fill="#111">0.6</text>
<text x="311.6" y="334.5" font-size="12.3" text-anchor="end" fill="#111">0.6</text>
<text x="493.8" y="458.4" font-size="12.5" text-anchor="middle" fill="#111">0.8</text>
<text x="311.6" y="298" font-size="12.3" text-anchor="end" fill="#111">0.8</text>
<text x="537.5" y="458.4" font-size="12.5" text-anchor="middle" fill="#111">1.0</text>
<text x="311.6" y="261.5" font-size="12.3" text-anchor="end" fill="#111">1.0</text>
<text x="291.8" y="347.8" font-size="12.8" text-anchor="middle" fill="#111" transform="rotate(-90 291.8 347.8)">reflectivity</text>
<text x="430.3" y="473.4" font-size="12.6" text-anchor="middle" fill="#111">duty ratio</text>
<text x="282.6" y="250.4" font-size="12.5" text-anchor="start" fill="#111">(d)</text>
<rect x="440.3" y="260.5" width="79" height="24" fill="#fff" stroke="#444" stroke-width="0.7"/>
<line x1="442.5" y1="266.8" x2="462.5" y2="266.8" stroke="#333" stroke-width="1.1"/>
<line x1="442.5" y1="278.4" x2="462.5" y2="278.4" stroke="#e8323c" stroke-width="1.15" stroke-dasharray="3.7 2.1"/>
<text x="464.7" y="269.8" font-size="9.1" text-anchor="start" fill="#111">period 1.55μm</text>
<text x="464.7" y="281.4" font-size="9.1" text-anchor="start" fill="#111">period 1.05μm</text>
</g>
</svg></body></html>
